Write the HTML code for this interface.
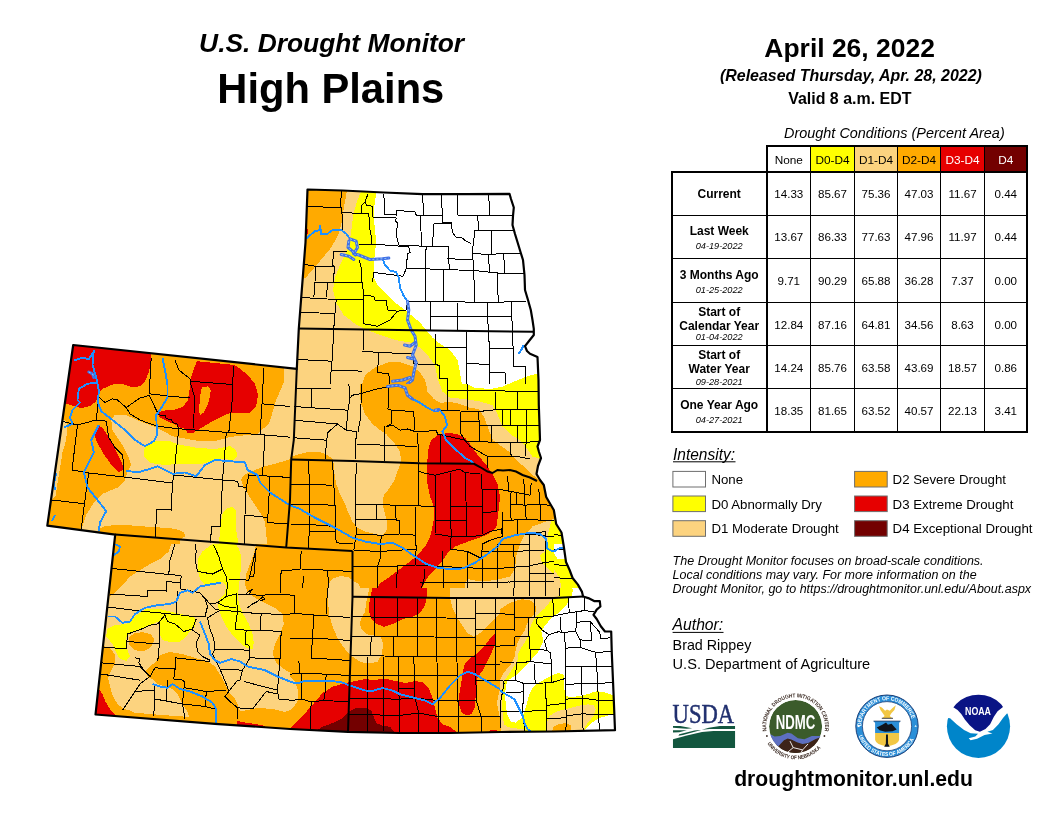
<!DOCTYPE html>
<html lang="en">
<head>
<meta charset="utf-8">
<title>U.S. Drought Monitor - High Plains</title>
<style>
html,body{margin:0;padding:0;background:#fff;}
body{width:1056px;height:816px;overflow:hidden;font-family:"Liberation Sans",sans-serif;}
svg{display:block;}
text{font-family:"Liberation Sans",sans-serif;fill:#000;}
.b{font-weight:bold;}
.i{font-style:italic;}
.c{text-anchor:middle;}
.num{font-size:11.6px;text-anchor:middle;}
.hd{font-size:11.8px;text-anchor:middle;}
.rl{font-size:12px;font-weight:bold;text-anchor:middle;}
.rd{font-size:9.2px;font-style:italic;text-anchor:middle;}
.lg{font-size:13.25px;}
.nt{font-size:12px;font-style:italic;}
</style>
</head>
<body>
<svg width="1056" height="816" viewBox="0 0 1056 816">
<rect width="1056" height="816" fill="#fff"/>
<text x="331.6" y="52.4" class="b i c" font-size="26.4" textLength="265" lengthAdjust="spacingAndGlyphs">U.S. Drought Monitor</text>
<text x="330.8" y="103.1" class="b c" font-size="41.7" textLength="227" lengthAdjust="spacingAndGlyphs">High Plains</text>
<text x="849.6" y="56.8" class="b c" font-size="26.2" textLength="170.5" lengthAdjust="spacingAndGlyphs">April 26, 2022</text>
<text x="850.9" y="81.2" class="b i c" font-size="15.9" textLength="261.8" lengthAdjust="spacingAndGlyphs">(Released Thursday, Apr. 28, 2022)</text>
<text x="849.8" y="104" class="b c" font-size="16" textLength="123.3" lengthAdjust="spacingAndGlyphs">Valid 8 a.m. EDT</text>
<text x="894.4" y="138" class="i c" font-size="14.4" textLength="220.6" lengthAdjust="spacingAndGlyphs">Drought Conditions (Percent Area)</text>
<rect x="767" y="146" width="43.5" height="26" fill="#ffffff"/>
<rect x="810.5" y="146" width="44.0" height="26" fill="#ffff00"/>
<rect x="854.5" y="146" width="43.0" height="26" fill="#fcd37f"/>
<rect x="897.5" y="146" width="43.0" height="26" fill="#ffaa00"/>
<rect x="940.5" y="146" width="44.0" height="26" fill="#e60000"/>
<rect x="984.5" y="146" width="42.5" height="26" fill="#730000"/>
<line x1="810.5" y1="146" x2="810.5" y2="432" stroke="#000" stroke-width="1"/>
<line x1="854.5" y1="146" x2="854.5" y2="432" stroke="#000" stroke-width="1"/>
<line x1="897.5" y1="146" x2="897.5" y2="432" stroke="#000" stroke-width="1"/>
<line x1="940.5" y1="146" x2="940.5" y2="432" stroke="#000" stroke-width="1"/>
<line x1="984.5" y1="146" x2="984.5" y2="432" stroke="#000" stroke-width="1"/>
<line x1="672" y1="215.5" x2="1027" y2="215.5" stroke="#000" stroke-width="1"/>
<line x1="672" y1="258.5" x2="1027" y2="258.5" stroke="#000" stroke-width="1"/>
<line x1="672" y1="302.5" x2="1027" y2="302.5" stroke="#000" stroke-width="1"/>
<line x1="672" y1="345.5" x2="1027" y2="345.5" stroke="#000" stroke-width="1"/>
<line x1="672" y1="388.5" x2="1027" y2="388.5" stroke="#000" stroke-width="1"/>
<path d="M767 432V146H1027V432H672V172H1027" fill="none" stroke="#000" stroke-width="2" stroke-linejoin="miter"/>
<text x="788.8" y="163.6" class="hd" fill="#000" style="fill:#000">None</text>
<text x="832.5" y="163.6" class="hd" fill="#000" style="fill:#000">D0-D4</text>
<text x="876.0" y="163.6" class="hd" fill="#000" style="fill:#000">D1-D4</text>
<text x="919.0" y="163.6" class="hd" fill="#000" style="fill:#000">D2-D4</text>
<text x="962.5" y="163.6" class="hd" fill="#fff" style="fill:#fff">D3-D4</text>
<text x="1005.8" y="163.6" class="hd" fill="#fff" style="fill:#fff">D4</text>
<text x="788.8" y="197.6" class="num">14.33</text>
<text x="832.5" y="197.6" class="num">85.67</text>
<text x="876.0" y="197.6" class="num">75.36</text>
<text x="919.0" y="197.6" class="num">47.03</text>
<text x="962.5" y="197.6" class="num">11.67</text>
<text x="1005.8" y="197.6" class="num">0.44</text>
<text x="788.8" y="241" class="num">13.67</text>
<text x="832.5" y="241" class="num">86.33</text>
<text x="876.0" y="241" class="num">77.63</text>
<text x="919.0" y="241" class="num">47.96</text>
<text x="962.5" y="241" class="num">11.97</text>
<text x="1005.8" y="241" class="num">0.44</text>
<text x="788.8" y="284.7" class="num">9.71</text>
<text x="832.5" y="284.7" class="num">90.29</text>
<text x="876.0" y="284.7" class="num">65.88</text>
<text x="919.0" y="284.7" class="num">36.28</text>
<text x="962.5" y="284.7" class="num">7.37</text>
<text x="1005.8" y="284.7" class="num">0.00</text>
<text x="788.8" y="328.6" class="num">12.84</text>
<text x="832.5" y="328.6" class="num">87.16</text>
<text x="876.0" y="328.6" class="num">64.81</text>
<text x="919.0" y="328.6" class="num">34.56</text>
<text x="962.5" y="328.6" class="num">8.63</text>
<text x="1005.8" y="328.6" class="num">0.00</text>
<text x="788.8" y="371.5" class="num">14.24</text>
<text x="832.5" y="371.5" class="num">85.76</text>
<text x="876.0" y="371.5" class="num">63.58</text>
<text x="919.0" y="371.5" class="num">43.69</text>
<text x="962.5" y="371.5" class="num">18.57</text>
<text x="1005.8" y="371.5" class="num">0.86</text>
<text x="788.8" y="414.6" class="num">18.35</text>
<text x="832.5" y="414.6" class="num">81.65</text>
<text x="876.0" y="414.6" class="num">63.52</text>
<text x="919.0" y="414.6" class="num">40.57</text>
<text x="962.5" y="414.6" class="num">22.13</text>
<text x="1005.8" y="414.6" class="num">3.41</text>
<text x="719.2" y="197.6" class="rl">Current</text>
<text x="719.2" y="234.6" class="rl">Last Week</text>
<text x="719.2" y="248.5" class="rd">04-19-2022</text>
<text x="719.2" y="278.5" class="rl">3 Months Ago</text>
<text x="719.2" y="292.6" class="rd">01-25-2022</text>
<text x="719.2" y="315.6" class="rl">Start of</text>
<text x="719.2" y="329.7" class="rl">Calendar Year</text>
<text x="719.2" y="339.5" class="rd">01-04-2022</text>
<text x="719.2" y="358.7" class="rl">Start of</text>
<text x="719.2" y="372.5" class="rl">Water Year</text>
<text x="719.2" y="384.6" class="rd">09-28-2021</text>
<text x="719.2" y="408.7" class="rl">One Year Ago</text>
<text x="719.2" y="422.8" class="rd">04-27-2021</text>
<text x="673" y="459.6" class="i" font-size="15.6" textLength="62" lengthAdjust="spacingAndGlyphs">Intensity:</text>
<line x1="673" y1="461.8" x2="735.5" y2="461.8" stroke="#000" stroke-width="1"/>
<rect x="672.9" y="471.4" width="32.6" height="15.6" fill="#ffffff" stroke="#6e6e6e" stroke-width="1"/>
<text x="711.4" y="484.0" class="lg">None</text>
<rect x="672.9" y="496.0" width="32.6" height="15.6" fill="#ffff00" stroke="#6e6e6e" stroke-width="1"/>
<text x="711.4" y="508.6" class="lg">D0 Abnormally Dry</text>
<rect x="672.9" y="520.7" width="32.6" height="15.6" fill="#fcd37f" stroke="#6e6e6e" stroke-width="1"/>
<text x="711.4" y="533.3" class="lg">D1 Moderate Drought</text>
<rect x="854.6" y="471.4" width="32.6" height="15.6" fill="#ffaa00" stroke="#6e6e6e" stroke-width="1"/>
<text x="892.6" y="484.0" class="lg">D2 Severe Drought</text>
<rect x="854.6" y="496.0" width="32.6" height="15.6" fill="#e60000" stroke="#6e6e6e" stroke-width="1"/>
<text x="892.6" y="508.6" class="lg">D3 Extreme Drought</text>
<rect x="854.6" y="520.7" width="32.6" height="15.6" fill="#730000" stroke="#6e6e6e" stroke-width="1"/>
<text x="892.6" y="533.3" class="lg">D4 Exceptional Drought</text>
<text x="672.6" y="564.6" class="nt" textLength="311" lengthAdjust="spacingAndGlyphs">The Drought Monitor focuses on broad-scale conditions.</text>
<text x="672.6" y="579" class="nt" textLength="304" lengthAdjust="spacingAndGlyphs">Local conditions may vary. For more information on the</text>
<text x="672.6" y="593.4" class="nt" textLength="358.5" lengthAdjust="spacingAndGlyphs">Drought Monitor, go to https://droughtmonitor.unl.edu/About.aspx</text>
<text x="672.6" y="630" class="i" font-size="15.7" textLength="50.6" lengthAdjust="spacingAndGlyphs">Author:</text>
<line x1="672.6" y1="632.4" x2="723.5" y2="632.4" stroke="#000" stroke-width="1"/>
<text x="672.6" y="650" font-size="14.3" textLength="78.7" lengthAdjust="spacingAndGlyphs">Brad Rippey</text>
<text x="672.6" y="669.4" font-size="14.3" textLength="197.6" lengthAdjust="spacingAndGlyphs">U.S. Department of Agriculture</text>
<text x="853.6" y="786.4" class="b c" font-size="21.2" textLength="238.8" lengthAdjust="spacingAndGlyphs">droughtmonitor.unl.edu</text>
<defs>
<clipPath id="mapclip"><polygon points="307.5,189.5 342.5,190.5 383.8,192.5 422.5,194.2 465.0,194.2 509.5,193.8 511.0,199.0 513.8,207.5 513.0,216.0 512.5,225.0 515.0,234.0 518.0,243.8 520.5,252.0 523.0,260.0 524.5,275.0 525.0,290.0 528.0,300.0 530.8,310.0 532.5,320.0 533.8,328.8 533.8,335.0 529.0,341.0 525.0,346.2 527.0,351.0 530.0,353.8 537.5,357.0 538.5,380.0 538.8,405.0 539.5,425.0 540.0,440.0 537.5,446.5 539.0,452.0 541.0,458.0 538.0,466.0 536.5,474.0 540.0,480.0 543.8,485.0 546.2,497.0 553.8,510.0 556.2,524.0 561.5,532.5 563.8,546.5 566.0,562.0 569.6,570.0 572.6,578.0 577.9,584.6 582.0,591.9 583.1,596.5 588.3,598.1 594.6,601.2 599.8,601.2 600.4,606.5 596.7,609.6 593.5,614.8 596.7,619.0 600.8,626.2 605.0,631.5 611.2,631.5 611.8,653.3 613.6,695.0 615.0,730.2 554.0,731.5 501.2,732.0 450.0,733.0 398.8,733.0 348.0,731.8 290.0,729.0 215.0,723.8 95.5,714.5 115.2,534.6 47.3,525.6 73.2,345.0 296.8,368.8 298.8,328.5 305.5,242.5"/></clipPath>
<clipPath id="cT11"><rect x="280" y="170" width="280" height="214"/></clipPath>
<clipPath id="cT21"><rect x="30" y="330" width="260" height="214"/></clipPath>
<clipPath id="cT31"><rect x="30" y="544" width="260" height="216"/></clipPath>
<clipPath id="cT22"><rect x="290" y="384" width="264" height="204"/></clipPath>
<clipPath id="cT23"><rect x="554" y="384" width="86" height="204"/></clipPath>
<clipPath id="cT32"><rect x="290" y="588" width="210" height="172"/></clipPath>
<clipPath id="cTE"><rect x="500" y="588" width="140" height="172"/></clipPath>
</defs>
<g clip-path="url(#mapclip)" shape-rendering="crispEdges">
<g clip-path="url(#cT11)">
<rect x="280" y="170" width="280" height="214" fill="#fcd37f"/>
<polygon points="307.5,187.5 347.0,190.0 345.5,198.8 343.5,210.0 342.0,221.2 338.8,233.8 331.2,247.5 325.0,255.0 318.8,262.5 311.2,271.2 305.5,278.0 297.5,280.0 297.5,187.5" fill="#ffaa00"/>
<polygon points="305.5,228.8 307.5,228.8 308.0,233.8 305.5,235.5" fill="#e60000"/>
<polygon points="361.2,387.5 365.0,375.0 375.0,367.5 387.5,362.5 400.0,362.0 412.5,366.2 420.0,372.5 425.0,380.0 427.5,387.5" fill="#ffaa00"/>
<polygon points="361.2,167.5 361.2,191.2 357.5,200.0 353.8,212.5 352.0,225.0 350.0,240.0 346.2,252.5 340.0,265.0 335.0,277.5 333.0,290.0 336.2,302.5 343.8,315.0 355.0,323.8 367.5,330.0 380.0,335.0 395.0,340.0 410.0,342.5 420.0,347.5 427.5,355.0 435.0,365.0 437.5,377.5 440.0,387.5 565.0,387.5 565.0,167.5" fill="#ffff00"/>
<polygon points="376.2,167.5 376.2,192.5 374.5,205.0 373.8,217.5 375.0,230.0 376.2,242.5 375.0,252.5 373.8,265.0 373.8,277.5 377.5,285.0 385.0,292.5 395.0,302.5 405.0,310.0 412.5,316.2 420.0,322.5 426.2,330.0 432.5,337.5 440.0,343.8 450.0,350.0 457.5,360.0 460.0,372.5 462.5,387.5 502.5,387.5 515.0,381.2 527.5,376.2 540.0,373.0 565.0,373.0 565.0,167.5" fill="#ffffff"/>
</g>
<g clip-path="url(#cT21)">
<rect x="30" y="330" width="260" height="214" fill="#fcd37f"/>
<polygon points="283.8,365.0 283.8,382.5 276.2,400.0 272.5,412.5 268.8,423.8 257.5,433.8 230.0,437.0 215.0,441.2 200.0,441.2 190.0,439.5 172.5,436.2 157.5,428.0 140.0,421.2 125.0,414.5 115.0,414.5 111.2,420.0 112.5,430.0 122.5,445.0 128.8,457.5 131.2,465.0 127.5,472.5 125.0,480.0 117.5,487.5 102.5,493.8 93.8,502.5 86.2,515.0 81.2,530.0 80.0,547.5 27.5,547.5 27.5,327.5 283.8,327.5" fill="#ffaa00"/>
<polygon points="27.5,419.5 65.0,419.5 67.5,425.0 66.2,440.0 62.5,452.5 58.8,475.0 55.5,496.2 50.0,501.2 27.5,501.2" fill="#fcd37f"/>
<polygon points="97.5,530.0 105.0,526.2 120.0,524.5 140.0,526.2 160.0,527.5 175.0,528.8 183.8,532.0 185.0,536.2 180.0,540.0 180.0,547.5 97.5,547.5" fill="#ffaa00"/>
<polygon points="73.2,342.5 151.2,351.2 151.2,360.0 148.8,372.5 145.0,381.2 140.0,386.2 132.5,387.5 122.5,383.8 112.5,384.5 102.5,388.8 98.8,393.8 96.2,401.2 90.0,406.2 81.2,408.0 72.5,405.5 66.2,403.8 62.5,400.0" fill="#e60000"/>
<polygon points="197.0,361.2 193.0,371.2 190.0,381.2 189.5,390.0 187.5,401.2 182.5,407.0 175.0,409.5 162.5,410.8 157.5,413.0 160.0,417.5 167.5,421.2 175.0,424.5 180.0,427.5 185.0,428.8 187.5,433.0 192.5,433.2 200.0,428.8 212.5,421.2 222.5,416.2 231.2,412.5 240.0,413.0 250.0,412.5 256.2,406.2 258.0,395.0 255.0,383.8 248.8,376.2 241.2,369.5 234.5,365.0" fill="#e60000"/>
<polygon points="202.5,387.5 208.0,386.2 210.8,390.0 210.0,396.2 207.5,405.5 203.8,412.5 200.0,415.0 199.0,410.0 200.0,397.5 201.2,390.0" fill="#ffaa00"/>
<polygon points="95.0,430.5 98.0,425.8 102.5,427.5 110.0,439.5 118.0,454.5 122.5,464.5 123.0,470.0 118.8,472.0 112.5,466.2 103.8,454.5 97.5,443.0 94.5,435.5" fill="#e60000"/>
<polygon points="143.8,450.0 147.5,443.8 157.5,440.5 170.0,441.2 177.5,444.2 195.0,447.5 215.0,449.2 230.0,446.2 236.2,450.0 237.5,456.2 232.5,460.5 225.0,459.0 215.0,460.0 202.5,463.8 180.0,463.8 165.0,465.0 150.0,463.0 144.5,457.5" fill="#ffff00"/>
<polygon points="332.0,456.2 326.2,454.4 318.8,451.9 310.0,453.1 300.0,455.6 287.5,460.0 275.0,463.8 262.5,466.9 252.5,471.2 243.8,475.0 241.2,480.0 243.1,486.2 246.9,492.5 252.5,501.2 260.0,512.5 265.0,522.5 266.2,532.5 267.5,550.0 332.0,550.0" fill="#ffaa00"/>
<polygon points="218.8,550.0 220.0,527.5 222.5,513.8 226.9,508.1 232.5,506.9 235.6,510.0 236.2,517.5 235.6,527.5 237.5,537.5 238.8,550.0" fill="#ffff00"/>
</g>
<g clip-path="url(#cT31)">
<rect x="30" y="544" width="260" height="216" fill="#fcd37f"/>
<polygon points="102.5,531.5 171.2,531.5 171.2,544.0 168.8,551.5 160.0,559.0 150.0,564.0 140.0,570.2 130.0,576.5 122.5,585.2 115.0,592.8 107.5,597.8 90.0,597.8 90.0,531.5" fill="#ffaa00"/>
<polygon points="128.8,637.8 133.8,633.5 142.5,632.0 151.2,634.5 154.5,640.2 151.2,647.0 143.8,651.5 135.0,650.2 128.8,644.0" fill="#ffaa00"/>
<polygon points="156.2,661.5 160.0,655.2 170.0,652.0 182.5,654.0 195.0,657.8 207.5,661.5 215.0,666.5 221.2,676.5 226.2,686.5 230.0,694.0 234.5,697.8 237.5,704.0 240.0,711.0 247.5,710.2 257.5,707.8 272.5,709.0 285.0,712.0 295.0,707.8 304.0,700.2 315.0,694.0 315.0,744.0 190.0,744.0 190.0,719.0 187.5,711.5 182.5,704.0 177.5,694.0 172.5,689.0 165.0,686.5 157.5,684.0 153.8,680.2 147.5,676.5 145.0,671.5 150.0,666.5" fill="#ffaa00"/>
<polygon points="256.2,531.5 256.2,544.0 253.8,554.0 250.0,564.0 246.2,574.0 245.0,584.0 247.5,591.5 255.0,597.8 265.0,602.8 275.0,607.8 282.5,614.0 283.8,624.0 280.0,634.0 275.0,644.0 272.5,654.0 276.2,662.8 283.8,669.0 292.5,674.0 304.0,676.5 315.0,676.5 315.0,531.5" fill="#ffaa00"/>
<polygon points="102.5,645.2 111.2,649.0 115.0,655.2 115.0,662.8 111.2,670.2 108.0,677.8 110.0,686.5 113.0,696.5 117.5,704.0 123.8,709.0 132.5,711.0 122.5,719.0 90.0,719.0 90.0,645.2" fill="#ffaa00"/>
<polygon points="120.0,711.0 140.0,713.2 165.0,715.2 190.0,717.0 190.0,726.5 120.0,721.5" fill="#ffaa00"/>
<polygon points="99.5,690.2 102.5,694.0 105.5,701.5 110.0,709.0 116.2,716.0 117.5,719.0 90.0,719.0 90.0,690.2" fill="#e60000"/>
<polygon points="237.0,721.0 245.0,722.5 255.0,724.0 265.0,726.0 266.2,730.2 237.0,727.8" fill="#e60000"/>
<polygon points="292.5,734.0 295.0,726.5 304.0,722.0 315.0,719.0 315.0,734.0" fill="#e60000"/>
<polygon points="212.5,531.5 212.5,544.0 202.5,551.5 198.0,559.0 197.5,569.0 200.0,579.0 205.0,585.2 215.0,584.0 221.2,581.5 226.2,585.2 225.0,594.0 218.8,600.2 218.0,606.5 221.2,616.5 226.2,626.5 232.5,635.2 240.0,642.8 246.2,647.8 252.5,649.0 253.8,642.8 252.5,634.0 248.8,624.0 243.8,615.2 240.0,606.5 237.5,597.8 238.8,587.8 240.0,576.5 241.2,566.5 241.2,556.5 238.8,549.0 236.2,544.0 236.2,531.5" fill="#ffff00"/>
<polygon points="107.0,629.0 115.0,625.2 126.2,624.0 135.0,616.5 145.0,609.5 157.5,608.5 170.0,611.5 180.0,614.0 192.5,616.5 196.2,619.0 195.0,626.5 190.0,631.5 185.0,637.8 180.0,641.5 170.0,642.0 162.5,640.2 159.5,634.0 159.5,624.0 157.5,622.0 150.0,625.2 140.0,629.0 130.0,632.8 126.2,637.8 127.0,649.0 130.0,656.5 126.2,661.0 120.0,659.0 116.2,652.8 112.5,644.0 106.2,636.5" fill="#ffff00"/>
</g>
<g clip-path="url(#cT22)">
<rect x="290" y="384" width="264" height="204" fill="#ffaa00"/>
<polygon points="360.0,371.5 360.0,384.0 359.5,394.0 361.2,404.0 365.0,414.0 372.5,424.0 380.0,430.2 386.2,434.0 390.0,439.0 395.0,444.0 400.0,451.5 401.2,461.5 397.5,471.5 393.8,481.5 388.8,489.0 383.8,495.2 382.5,504.0 385.0,514.0 387.5,524.0 386.2,531.5 382.5,535.2 375.0,534.0 365.0,531.5 357.5,527.8 352.5,521.5 348.8,514.0 345.0,504.0 340.0,494.0 336.2,484.0 334.5,474.0 333.8,464.0 332.5,459.0 327.5,455.2 320.0,452.0 310.0,451.5 300.0,454.0 290.0,457.0 277.5,457.0 277.5,371.5" fill="#fcd37f"/>
<polygon points="565.0,517.8 554.0,519.0 542.5,522.8 532.5,526.5 525.0,534.0 520.0,544.0 516.2,556.5 515.0,569.0 510.0,576.5 495.0,580.2 480.0,581.5 467.5,579.0 465.0,584.0 465.0,591.5 565.0,591.5" fill="#fcd37f"/>
<polygon points="327.5,591.5 328.8,584.0 332.5,578.5 340.0,576.0 348.8,577.0 353.8,581.5 358.8,584.0 361.2,591.5" fill="#fcd37f"/>
<polygon points="426.2,371.5 426.2,384.0 427.5,391.5 433.8,399.0 440.0,402.8 450.0,402.0 460.0,404.0 470.0,407.8 478.8,409.0 484.5,417.8 488.8,430.2 493.0,440.2 501.2,446.0 508.8,451.5 515.0,459.0 523.8,466.5 531.2,473.5 538.8,480.2 565.0,480.2 565.0,371.5" fill="#fcd37f"/>
<polygon points="440.0,371.5 440.0,384.0 442.5,391.5 450.0,397.8 465.0,399.0 480.0,401.5 492.5,405.2 497.5,414.0 502.5,426.5 510.0,434.0 520.0,440.2 527.5,449.0 532.5,456.5 540.0,459.0 565.0,459.0 565.0,371.5" fill="#ffff00"/>
<polygon points="465.0,371.5 466.2,384.0 475.0,387.8 490.0,389.0 502.5,386.5 507.5,384.0 507.5,371.5" fill="#ffffff"/>
<polygon points="551.2,521.5 549.2,528.8 547.5,536.2 548.5,543.8 545.5,551.2 540.0,555.0 541.8,562.5 547.5,568.0 554.0,574.0 565.0,574.0 565.0,519.0 555.0,519.0" fill="#ffff00"/>
<polygon points="428.8,446.5 431.2,440.2 437.5,435.2 447.5,432.8 457.5,434.0 465.0,437.8 470.0,444.0 475.0,451.5 481.2,459.0 487.5,466.5 492.5,474.0 497.5,484.0 500.0,496.5 498.8,509.0 497.5,519.0 496.2,527.8 490.0,532.8 482.5,536.5 475.0,539.0 465.0,542.8 455.0,546.5 448.8,551.5 443.8,559.0 437.5,566.5 430.0,574.0 425.0,581.5 420.0,591.5 377.5,591.5 378.8,584.0 390.0,576.5 400.0,569.0 410.0,561.5 417.5,555.2 425.0,546.5 430.0,536.5 432.5,526.5 434.5,516.5 433.8,506.5 430.0,496.5 427.5,484.0 427.0,471.5 427.5,459.0" fill="#e60000"/>
</g>
<g clip-path="url(#cT23)">
<rect x="554" y="384" width="86" height="204" fill="#ffff00"/>
<polygon points="553.0,544.0 562.5,544.0 565.5,559.0 557.5,559.0 553.0,551.5" fill="#ffffff"/>
<polygon points="554.0,569.5 558.8,576.5 562.5,591.5 550.0,591.5 550.0,569.5" fill="#fcd37f"/>
</g>
<g clip-path="url(#cT32)">
<rect x="290" y="588" width="210" height="172" fill="#ffaa00"/>
<polygon points="327.5,575.5 327.5,588.0 328.0,603.0 329.5,615.5 333.0,628.0 338.8,640.5 346.2,650.5 352.5,656.8 361.2,662.2 370.0,663.5 377.5,661.8 382.0,654.2 383.0,643.0 380.5,636.8 373.8,635.5 366.2,634.2 361.2,629.2 360.0,623.0 362.0,616.8 365.0,611.8 365.8,605.5 367.0,597.5 369.5,588.0 369.5,575.5" fill="#fcd37f"/>
<polygon points="450.0,575.5 450.0,598.0 452.5,608.0 457.5,618.0 462.5,625.5 467.5,633.0 473.8,636.8 480.0,633.0 487.5,625.5 495.0,618.0 502.5,611.8 510.0,605.5 517.5,601.0 527.5,599.2 536.2,599.2 537.5,606.8 533.8,614.2 527.5,620.5 522.5,628.0 518.8,638.0 516.2,648.0 515.0,658.0 510.0,665.5 505.0,673.0 502.5,683.0 498.8,693.0 497.0,703.0 498.8,713.0 501.2,723.0 502.5,738.0 565.0,738.0 565.0,575.5" fill="#fcd37f"/>
<polygon points="280.0,670.5 287.5,674.2 295.0,681.8 298.2,691.2 297.8,700.5 293.0,708.0 285.5,712.8 280.0,714.8" fill="#fcd37f"/>
<polygon points="565.0,605.5 554.0,606.8 545.0,611.8 540.0,615.5 533.8,623.0 527.5,630.5 522.5,640.5 520.0,650.5 518.8,660.5 515.0,668.0 510.0,674.2 506.2,684.2 503.8,693.0 502.0,703.0 502.5,713.0 505.0,723.0 506.2,738.0 565.0,738.0" fill="#ffff00"/>
<polygon points="372.5,575.5 372.5,588.0 370.0,598.0 368.8,608.0 370.0,616.8 375.0,623.0 383.8,626.8 392.5,624.2 402.5,619.2 412.5,616.8 420.0,613.0 425.0,605.5 427.0,595.5 427.0,575.5" fill="#e60000"/>
<polygon points="495.5,633.0 496.2,640.5 492.5,650.5 487.5,660.5 482.5,670.5 477.5,678.0 476.2,688.0 475.5,698.0 474.5,708.0 471.2,714.2 466.2,715.5 461.2,711.8 458.8,703.0 459.5,693.0 461.2,683.0 462.5,673.0 465.0,663.0 470.0,658.0 477.5,653.0 485.0,645.5 491.2,636.8" fill="#e60000"/>
<polygon points="277.5,738.0 290.0,728.0 297.5,720.5 307.5,710.5 315.0,701.8 322.5,693.0 332.5,686.8 345.0,683.0 355.0,681.0 365.0,679.2 375.0,680.0 385.0,678.5 395.0,681.0 405.0,683.0 415.0,681.0 422.5,682.5 428.8,688.0 432.5,698.0 435.0,708.0 437.5,718.0 442.5,724.2 450.0,726.8 456.2,731.8 456.2,738.0" fill="#e60000"/>
<polygon points="486.2,734.2 490.0,730.0 496.2,729.5 500.0,734.2" fill="#e60000"/>
<polygon points="313.8,731.8 322.5,726.8 332.5,723.0 342.5,718.0 348.8,711.8 356.2,708.0 365.0,707.5 371.2,710.5 373.8,716.8 376.2,723.0 382.5,725.5 390.0,726.8 393.8,731.8 393.8,738.0 313.8,738.0" fill="#730000"/>
</g>
<g clip-path="url(#cTE)">
<rect x="500" y="588" width="140" height="172" fill="#ffffff"/>
<polygon points="571.7,559.6 571.7,582.5 572.7,590.8 571.7,596.0 569.6,597.1 567.5,603.3 563.3,608.5 559.2,612.7 552.9,616.9 548.8,621.0 544.6,626.2 541.5,631.5 542.5,636.7 543.5,640.8 540.4,647.1 537.3,653.3 533.1,657.5 529.0,662.7 524.8,666.9 519.6,672.1 514.4,676.2 509.2,679.4 506.7,682.5 505.4,690.8 505.4,699.2 506.0,707.5 507.7,715.8 511.2,721.7 515.4,722.7 520.6,719.0 523.8,713.8 526.9,703.3 529.0,695.0 532.1,688.8 537.3,683.5 544.6,679.4 551.9,675.2 558.1,673.1 563.3,674.2 564.4,680.4 564.4,688.8 565.4,696.0 571.7,697.1 580.0,696.0 588.3,694.0 593.5,691.9 597.7,691.2 605.0,692.5 612.3,695.0 625.8,695.0 625.8,713.8 614.4,713.8 607.1,715.8 599.8,717.9 595.6,720.0 590.4,724.2 586.2,728.3 584.2,730.8 584.2,742.9 469.6,742.9 469.6,559.6" fill="#ffff00"/>
<polygon points="559.2,559.6 559.2,570.0 560.2,582.5 560.2,596.0 552.9,598.1 548.8,603.3 544.6,608.5 540.4,611.7 536.2,616.9 532.1,622.1 530.0,628.3 529.0,634.6 525.8,640.8 521.7,647.1 518.5,653.3 517.5,659.6 514.4,665.8 510.2,672.1 506.0,678.3 503.3,683.5 502.1,690.8 501.7,699.2 502.1,707.5 502.9,715.8 504.0,724.2 508.1,727.3 515.4,728.3 523.8,729.4 524.8,742.9 469.6,742.9 469.6,559.6" fill="#fcd37f"/>
<polygon points="546.2,734.6 546.7,724.2 548.8,716.9 552.9,713.3 559.2,710.6 565.8,709.2 571.7,707.5 580.0,705.4 588.3,704.4 593.5,705.4 595.6,709.6 593.5,715.8 589.4,721.0 585.2,726.2 583.1,734.6" fill="#fcd37f"/>
<polygon points="551.9,734.6 552.9,727.3 558.1,724.2 565.4,723.1 570.6,725.2 571.7,734.6" fill="#ffaa00"/>
<polygon points="469.6,619.0 480.0,619.0 486.2,616.9 492.5,614.8 496.7,611.7 502.9,607.5 509.2,603.3 514.4,601.2 521.7,599.2 530.0,600.2 535.2,604.4 536.2,610.6 533.1,615.8 529.0,619.0 526.9,624.2 524.8,630.4 520.6,636.7 517.5,642.9 515.4,651.2 514.4,657.5 511.2,663.8 506.0,670.0 502.9,674.2 500.8,678.3 496.7,686.7 494.6,695.0 492.5,703.3 494.6,711.7 498.8,715.8 500.8,724.2 500.8,742.9 469.6,742.9" fill="#ffaa00"/>
</g>
</g>
<g clip-path="url(#mapclip)">
<g clip-path="url(#cT11)">
<polyline points="307.5,206.2 341.2,208.0" fill="none" stroke="#000" stroke-width="1" shape-rendering="crispEdges"/>
<polyline points="341.2,191.2 340.8,205.0 341.8,212.5 343.0,221.2 342.5,230.0" fill="none" stroke="#000" stroke-width="1" shape-rendering="crispEdges"/>
<polyline points="341.8,212.5 368.8,213.8" fill="none" stroke="#000" stroke-width="1" shape-rendering="crispEdges"/>
<polyline points="361.2,213.8 361.8,205.0 365.0,202.0 368.0,193.8" fill="none" stroke="#000" stroke-width="1" shape-rendering="crispEdges"/>
<polyline points="365.0,202.0 367.0,205.5 373.0,206.2 372.5,217.0 384.5,217.5 396.2,218.0" fill="none" stroke="#000" stroke-width="1" shape-rendering="crispEdges"/>
<polyline points="383.8,193.8 384.5,206.2 385.0,214.5 396.2,215.0 396.2,210.5 415.0,211.8 416.2,215.0 422.0,215.5" fill="none" stroke="#000" stroke-width="1" shape-rendering="crispEdges"/>
<polyline points="368.8,213.8 370.0,230.0 371.8,238.8 371.2,244.2" fill="none" stroke="#000" stroke-width="1" shape-rendering="crispEdges"/>
<polyline points="358.8,244.2 385.0,245.0 408.8,246.8 410.0,252.5 407.5,253.8 406.2,268.8 403.0,276.2 373.8,272.5 372.5,282.0" fill="none" stroke="#000" stroke-width="1" shape-rendering="crispEdges"/>
<polyline points="396.2,218.0 395.5,221.2 397.5,223.0 396.2,235.0 398.8,245.0" fill="none" stroke="#000" stroke-width="1" shape-rendering="crispEdges"/>
<polyline points="333.8,251.2 347.5,251.5" fill="none" stroke="#000" stroke-width="1" shape-rendering="crispEdges"/>
<polyline points="333.8,251.2 332.5,265.0 334.2,266.2 333.8,282.0" fill="none" stroke="#000" stroke-width="1" shape-rendering="crispEdges"/>
<polyline points="302.5,264.2 315.5,266.2 333.8,266.2" fill="none" stroke="#000" stroke-width="1" shape-rendering="crispEdges"/>
<polyline points="315.5,266.2 315.0,282.0 313.8,297.5" fill="none" stroke="#000" stroke-width="1" shape-rendering="crispEdges"/>
<polyline points="359.2,260.0 361.2,267.5 361.8,282.0" fill="none" stroke="#000" stroke-width="1" shape-rendering="crispEdges"/>
<polyline points="315.0,282.0 333.8,282.0 362.5,282.5" fill="none" stroke="#000" stroke-width="1" shape-rendering="crispEdges"/>
<polyline points="327.5,282.0 326.5,297.5" fill="none" stroke="#000" stroke-width="1" shape-rendering="crispEdges"/>
<polyline points="301.2,297.5 336.2,299.5 362.5,300.0" fill="none" stroke="#000" stroke-width="1" shape-rendering="crispEdges"/>
<polyline points="300.5,312.0 334.5,313.8" fill="none" stroke="#000" stroke-width="1" shape-rendering="crispEdges"/>
<polyline points="336.2,299.5 335.0,313.8 333.8,328.0" fill="none" stroke="#000" stroke-width="1" shape-rendering="crispEdges"/>
<polyline points="362.5,282.5 363.8,300.0 363.8,323.8" fill="none" stroke="#000" stroke-width="1" shape-rendering="crispEdges"/>
<polyline points="363.8,295.5 373.8,296.2 374.5,300.0 386.2,300.5 387.5,310.0 397.5,311.2 406.2,310.0 407.5,302.5" fill="none" stroke="#000" stroke-width="1" shape-rendering="crispEdges"/>
<polyline points="397.5,311.2 390.0,320.0 377.5,326.2 363.8,323.8" fill="none" stroke="#000" stroke-width="1" shape-rendering="crispEdges"/>
<polyline points="422.5,194.5 423.8,215.5 420.0,216.2 422.0,246.2" fill="none" stroke="#000" stroke-width="1" shape-rendering="crispEdges"/>
<polyline points="441.2,194.5 442.5,215.5" fill="none" stroke="#000" stroke-width="1" shape-rendering="crispEdges"/>
<polyline points="423.8,215.5 442.5,215.5 443.0,222.5" fill="none" stroke="#000" stroke-width="1" shape-rendering="crispEdges"/>
<polyline points="457.0,194.5 458.0,215.0 477.5,215.5 478.8,230.0 475.0,230.0 472.0,253.8" fill="none" stroke="#000" stroke-width="1" shape-rendering="crispEdges"/>
<polyline points="488.8,194.5 489.5,215.0" fill="none" stroke="#000" stroke-width="1" shape-rendering="crispEdges"/>
<polyline points="477.5,215.5 513.0,215.0" fill="none" stroke="#000" stroke-width="1" shape-rendering="crispEdges"/>
<polyline points="433.8,223.8 432.5,246.2" fill="none" stroke="#000" stroke-width="1" shape-rendering="crispEdges"/>
<polyline points="433.8,223.8 451.2,223.0 452.5,232.5 456.2,237.5 461.2,237.0 465.0,240.5 471.2,243.8" fill="none" stroke="#000" stroke-width="1" shape-rendering="crispEdges"/>
<polyline points="443.0,222.5 451.2,223.0" fill="none" stroke="#000" stroke-width="1" shape-rendering="crispEdges"/>
<polyline points="475.0,230.0 491.2,230.8 492.0,253.8" fill="none" stroke="#000" stroke-width="1" shape-rendering="crispEdges"/>
<polyline points="491.2,230.8 513.2,230.0" fill="none" stroke="#000" stroke-width="1" shape-rendering="crispEdges"/>
<polyline points="398.8,245.5 426.2,246.2 448.8,247.0" fill="none" stroke="#000" stroke-width="1" shape-rendering="crispEdges"/>
<polyline points="448.8,247.0 448.0,258.8 450.0,268.8" fill="none" stroke="#000" stroke-width="1" shape-rendering="crispEdges"/>
<polyline points="448.0,258.8 472.5,259.5" fill="none" stroke="#000" stroke-width="1" shape-rendering="crispEdges"/>
<polyline points="472.0,253.8 488.8,254.2 503.8,253.8 521.2,253.2" fill="none" stroke="#000" stroke-width="1" shape-rendering="crispEdges"/>
<polyline points="426.2,246.2 425.0,268.8 406.2,268.8" fill="none" stroke="#000" stroke-width="1" shape-rendering="crispEdges"/>
<polyline points="425.0,268.8 443.0,269.5 473.8,270.5 497.5,273.0 523.8,273.0" fill="none" stroke="#000" stroke-width="1" shape-rendering="crispEdges"/>
<polyline points="472.5,253.8 473.8,270.5" fill="none" stroke="#000" stroke-width="1" shape-rendering="crispEdges"/>
<polyline points="488.8,254.2 489.2,272.0" fill="none" stroke="#000" stroke-width="1" shape-rendering="crispEdges"/>
<polyline points="503.8,253.8 504.5,273.0" fill="none" stroke="#000" stroke-width="1" shape-rendering="crispEdges"/>
<polyline points="425.0,268.8 425.0,301.2" fill="none" stroke="#000" stroke-width="1" shape-rendering="crispEdges"/>
<polyline points="443.0,269.5 443.8,301.2" fill="none" stroke="#000" stroke-width="1" shape-rendering="crispEdges"/>
<polyline points="473.8,270.5 474.5,301.8" fill="none" stroke="#000" stroke-width="1" shape-rendering="crispEdges"/>
<polyline points="497.5,273.0 498.2,302.0" fill="none" stroke="#000" stroke-width="1" shape-rendering="crispEdges"/>
<polyline points="407.5,301.2 430.0,301.8 456.2,301.8 487.5,302.5 511.2,301.8 525.5,301.2" fill="none" stroke="#000" stroke-width="1" shape-rendering="crispEdges"/>
<polyline points="430.0,301.8 430.8,331.2" fill="none" stroke="#000" stroke-width="1" shape-rendering="crispEdges"/>
<polyline points="457.0,301.8 457.5,331.2" fill="none" stroke="#000" stroke-width="1" shape-rendering="crispEdges"/>
<polyline points="487.5,302.5 488.2,331.8" fill="none" stroke="#000" stroke-width="1" shape-rendering="crispEdges"/>
<polyline points="511.2,301.8 512.5,331.8" fill="none" stroke="#000" stroke-width="1" shape-rendering="crispEdges"/>
<polyline points="430.8,316.2 457.0,316.8 487.5,316.8 512.0,317.0" fill="none" stroke="#000" stroke-width="1" shape-rendering="crispEdges"/>
<polyline points="333.8,328.0 332.5,355.0 331.2,370.0 330.0,384.0" fill="none" stroke="#000" stroke-width="1" shape-rendering="crispEdges"/>
<polyline points="298.0,359.5 331.8,361.2" fill="none" stroke="#000" stroke-width="1" shape-rendering="crispEdges"/>
<polyline points="331.2,370.0 362.5,371.2" fill="none" stroke="#000" stroke-width="1" shape-rendering="crispEdges"/>
<polyline points="363.8,330.0 363.0,351.2 378.8,352.5 377.5,372.5 388.8,373.8 390.0,384.0" fill="none" stroke="#000" stroke-width="1" shape-rendering="crispEdges"/>
<polyline points="378.8,352.5 412.5,353.8 413.8,363.8 437.5,365.0 440.0,365.5 439.5,378.8 447.5,378.8 447.5,384.0" fill="none" stroke="#000" stroke-width="1" shape-rendering="crispEdges"/>
<polyline points="435.0,332.5 435.5,365.0" fill="none" stroke="#000" stroke-width="1" shape-rendering="crispEdges"/>
<polyline points="435.0,347.5 466.2,348.0" fill="none" stroke="#000" stroke-width="1" shape-rendering="crispEdges"/>
<polyline points="466.2,332.5 467.0,384.0" fill="none" stroke="#000" stroke-width="1" shape-rendering="crispEdges"/>
<polyline points="488.8,332.5 490.0,384.0" fill="none" stroke="#000" stroke-width="1" shape-rendering="crispEdges"/>
<polyline points="490.0,348.0 513.0,348.0" fill="none" stroke="#000" stroke-width="1" shape-rendering="crispEdges"/>
<polyline points="467.0,363.8 490.0,364.2" fill="none" stroke="#000" stroke-width="1" shape-rendering="crispEdges"/>
<polyline points="512.5,332.5 513.8,366.2 525.0,366.2 525.0,384.0" fill="none" stroke="#000" stroke-width="1" shape-rendering="crispEdges"/>
<polyline points="490.0,372.5 505.0,373.0 505.5,384.0" fill="none" stroke="#000" stroke-width="1" shape-rendering="crispEdges"/>
</g>
<g clip-path="url(#cT21)">
<polyline points="151.2,358.0 149.2,393.8 170.0,396.2 190.0,398.0" fill="none" stroke="#000" stroke-width="1" shape-rendering="crispEdges"/>
<polyline points="98.8,397.0 105.0,402.5 112.5,398.8 117.5,400.0 126.2,407.5 140.0,398.0 149.2,395.5" fill="none" stroke="#000" stroke-width="1" shape-rendering="crispEdges"/>
<polyline points="98.8,397.0 96.2,420.0 77.5,425.0 62.0,421.2" fill="none" stroke="#000" stroke-width="1" shape-rendering="crispEdges"/>
<polyline points="96.2,420.0 106.2,421.2 108.8,437.5 115.0,447.5 122.5,455.0 123.8,465.0 123.8,477.0" fill="none" stroke="#000" stroke-width="1" shape-rendering="crispEdges"/>
<polyline points="77.5,425.0 72.0,470.0 88.8,473.0 123.8,477.0 172.5,483.0" fill="none" stroke="#000" stroke-width="1" shape-rendering="crispEdges"/>
<polyline points="88.8,473.0 86.2,490.0 84.5,503.8 81.2,528.8" fill="none" stroke="#000" stroke-width="1" shape-rendering="crispEdges"/>
<polyline points="52.0,500.0 85.0,503.8" fill="none" stroke="#000" stroke-width="1" shape-rendering="crispEdges"/>
<polyline points="126.2,407.5 130.0,413.8 140.0,420.0 150.0,423.8 157.5,426.2 178.8,428.8" fill="none" stroke="#000" stroke-width="1" shape-rendering="crispEdges"/>
<polyline points="149.2,395.5 157.5,412.5 159.5,415.0 165.0,415.5 166.2,418.8 171.2,419.5 172.5,422.5 177.0,423.8 178.8,428.8" fill="none" stroke="#000" stroke-width="1" shape-rendering="crispEdges"/>
<polyline points="175.0,360.0 178.8,370.0 190.0,378.8 190.0,381.2 232.5,384.5 233.8,366.2" fill="none" stroke="#000" stroke-width="1" shape-rendering="crispEdges"/>
<polyline points="190.0,381.2 195.0,398.8 193.0,428.8" fill="none" stroke="#000" stroke-width="1" shape-rendering="crispEdges"/>
<polyline points="232.5,384.5 232.0,402.5 228.8,432.5" fill="none" stroke="#000" stroke-width="1" shape-rendering="crispEdges"/>
<polyline points="178.8,428.8 228.8,432.5 265.0,435.0 293.8,437.5" fill="none" stroke="#000" stroke-width="1" shape-rendering="crispEdges"/>
<polyline points="263.8,368.0 262.0,403.8 260.0,435.0" fill="none" stroke="#000" stroke-width="1" shape-rendering="crispEdges"/>
<polyline points="262.0,403.8 295.0,407.0" fill="none" stroke="#000" stroke-width="1" shape-rendering="crispEdges"/>
<polyline points="178.8,428.8 176.2,452.5 173.8,475.0 172.5,483.0 171.2,510.0 157.0,509.5 155.0,538.8" fill="none" stroke="#000" stroke-width="1" shape-rendering="crispEdges"/>
<polyline points="226.2,433.0 224.5,457.5 222.5,480.0 220.5,526.2 212.0,526.2 210.0,543.0" fill="none" stroke="#000" stroke-width="1" shape-rendering="crispEdges"/>
<polyline points="173.8,475.0 222.5,480.0 237.5,481.2 238.8,486.2 246.2,487.5 248.8,475.0 270.0,476.2 290.0,477.5" fill="none" stroke="#000" stroke-width="1" shape-rendering="crispEdges"/>
<polyline points="265.0,435.0 262.5,475.0" fill="none" stroke="#000" stroke-width="1" shape-rendering="crispEdges"/>
<polyline points="246.2,487.5 245.0,515.0 244.5,544.0" fill="none" stroke="#000" stroke-width="1" shape-rendering="crispEdges"/>
<polyline points="270.0,476.2 268.8,500.0 267.5,522.5 287.5,524.0" fill="none" stroke="#000" stroke-width="1" shape-rendering="crispEdges"/>
<polyline points="245.0,515.0 267.5,517.5" fill="none" stroke="#000" stroke-width="1" shape-rendering="crispEdges"/>
</g>
<g clip-path="url(#cT31)">
<polyline points="175.0,544.0 170.0,560.2 168.8,574.0 181.2,576.0 180.0,589.0" fill="none" stroke="#000" stroke-width="1" shape-rendering="crispEdges"/>
<polyline points="112.5,568.5 168.8,574.5" fill="none" stroke="#000" stroke-width="1" shape-rendering="crispEdges"/>
<polyline points="109.5,594.0 147.5,596.5 148.0,590.2 166.2,591.0 167.0,581.5 180.0,582.8" fill="none" stroke="#000" stroke-width="1" shape-rendering="crispEdges"/>
<polyline points="108.0,607.0 140.0,611.0 176.2,614.5 197.5,617.0" fill="none" stroke="#000" stroke-width="1" shape-rendering="crispEdges"/>
<polyline points="126.2,649.0 127.5,634.0 138.8,630.2 150.0,625.2 157.5,624.0 163.8,616.5 165.0,614.0" fill="none" stroke="#000" stroke-width="1" shape-rendering="crispEdges"/>
<polyline points="160.0,621.5 158.8,654.0 157.5,661.5" fill="none" stroke="#000" stroke-width="1" shape-rendering="crispEdges"/>
<polyline points="103.8,647.0 126.2,649.0" fill="none" stroke="#000" stroke-width="1" shape-rendering="crispEdges"/>
<polyline points="127.5,641.5 158.8,644.0" fill="none" stroke="#000" stroke-width="1" shape-rendering="crispEdges"/>
<polyline points="101.2,662.8 140.0,666.5 150.0,676.5 155.0,667.8 175.0,669.0 175.0,657.8 210.0,661.5" fill="none" stroke="#000" stroke-width="1" shape-rendering="crispEdges"/>
<polyline points="195.0,544.0 196.2,551.5 195.0,559.0 197.5,571.5 212.5,574.0 222.5,569.0 218.8,556.5 213.8,545.2" fill="none" stroke="#000" stroke-width="1" shape-rendering="crispEdges"/>
<polyline points="222.5,569.0 226.2,576.5 227.5,585.2 226.2,596.5 217.5,602.8 210.0,604.0 200.0,592.8 181.2,589.0" fill="none" stroke="#000" stroke-width="1" shape-rendering="crispEdges"/>
<polyline points="176.2,614.0 177.5,591.5" fill="none" stroke="#000" stroke-width="1" shape-rendering="crispEdges"/>
<polyline points="200.0,592.8 205.0,599.0 207.5,606.5 205.0,616.5 197.5,617.0" fill="none" stroke="#000" stroke-width="1" shape-rendering="crispEdges"/>
<polyline points="210.0,604.0 215.0,609.0 220.0,610.2 207.5,617.8" fill="none" stroke="#000" stroke-width="1" shape-rendering="crispEdges"/>
<polyline points="165.0,615.2 167.5,621.5 175.0,624.0 183.8,631.5 192.5,629.0 196.2,619.0" fill="none" stroke="#000" stroke-width="1" shape-rendering="crispEdges"/>
<polyline points="192.5,630.2 200.0,635.2 196.2,642.8 197.5,651.5 202.5,656.5 210.0,660.2" fill="none" stroke="#000" stroke-width="1" shape-rendering="crispEdges"/>
<polyline points="207.5,617.8 210.0,629.0 213.8,639.0 215.0,649.0 212.5,654.0" fill="none" stroke="#000" stroke-width="1" shape-rendering="crispEdges"/>
<polyline points="226.2,596.5 236.2,594.0 237.5,611.5 235.0,629.0 246.2,630.2 245.0,644.0 248.8,645.2 249.5,649.0" fill="none" stroke="#000" stroke-width="1" shape-rendering="crispEdges"/>
<polyline points="220.0,610.2 237.5,611.5" fill="none" stroke="#000" stroke-width="1" shape-rendering="crispEdges"/>
<polyline points="237.5,594.0 260.0,595.2 295.0,594.0 304.0,594.0" fill="none" stroke="#000" stroke-width="1" shape-rendering="crispEdges"/>
<polyline points="228.8,579.0 248.8,580.2 250.0,575.2 256.2,547.8" fill="none" stroke="#000" stroke-width="1" shape-rendering="crispEdges"/>
<polyline points="256.2,547.8 253.8,576.5 250.0,576.5" fill="none" stroke="#000" stroke-width="1" shape-rendering="crispEdges"/>
<polyline points="217.5,602.8 225.0,606.5 236.2,607.8" fill="none" stroke="#000" stroke-width="1" shape-rendering="crispEdges"/>
<polyline points="237.5,611.5 247.5,612.8 261.2,613.5 260.0,630.2 246.2,630.2" fill="none" stroke="#000" stroke-width="1" shape-rendering="crispEdges"/>
<polyline points="261.2,613.5 295.0,615.2 296.2,594.0" fill="none" stroke="#000" stroke-width="1" shape-rendering="crispEdges"/>
<polyline points="260.0,630.2 281.2,631.5 280.0,659.0 249.5,657.8 249.5,649.0" fill="none" stroke="#000" stroke-width="1" shape-rendering="crispEdges"/>
<polyline points="215.0,649.0 249.5,650.2" fill="none" stroke="#000" stroke-width="1" shape-rendering="crispEdges"/>
<polyline points="245.0,595.2 248.8,591.5 252.5,589.0 250.0,592.8 248.8,595.2" fill="none" stroke="#000" stroke-width="1" shape-rendering="crispEdges"/>
<polyline points="247.5,607.8 252.5,604.0 257.5,601.5 262.5,597.0 265.0,599.0 260.0,601.0" fill="none" stroke="#000" stroke-width="1" shape-rendering="crispEdges"/>
<polyline points="212.5,654.0 220.0,669.0 226.2,684.0 228.8,691.5 237.5,680.2 240.0,680.2 242.5,670.2 220.0,669.0" fill="none" stroke="#000" stroke-width="1" shape-rendering="crispEdges"/>
<polyline points="242.5,670.2 250.0,657.8" fill="none" stroke="#000" stroke-width="1" shape-rendering="crispEdges"/>
<polyline points="243.8,681.5 277.5,690.2 278.8,699.0 304.0,701.5" fill="none" stroke="#000" stroke-width="1" shape-rendering="crispEdges"/>
<polyline points="280.0,659.0 277.5,690.2" fill="none" stroke="#000" stroke-width="1" shape-rendering="crispEdges"/>
<polyline points="228.8,691.5 225.0,696.5 230.0,701.5 237.5,707.8 237.5,719.0" fill="none" stroke="#000" stroke-width="1" shape-rendering="crispEdges"/>
<polyline points="237.5,707.8 252.5,709.0 266.2,691.5 277.5,694.0" fill="none" stroke="#000" stroke-width="1" shape-rendering="crispEdges"/>
<polyline points="175.0,669.0 173.8,679.0 183.8,680.2 185.0,687.8 206.2,691.5 226.2,690.2" fill="none" stroke="#000" stroke-width="1" shape-rendering="crispEdges"/>
<polyline points="183.8,687.8 182.5,704.0 205.5,706.5 215.0,709.0" fill="none" stroke="#000" stroke-width="1" shape-rendering="crispEdges"/>
<polyline points="206.2,691.5 205.5,706.5" fill="none" stroke="#000" stroke-width="1" shape-rendering="crispEdges"/>
<polyline points="182.5,704.0 185.0,719.0" fill="none" stroke="#000" stroke-width="1" shape-rendering="crispEdges"/>
<polyline points="135.0,657.8 140.0,659.0 138.8,662.8 145.0,671.5 151.2,676.5" fill="none" stroke="#000" stroke-width="1" shape-rendering="crispEdges"/>
<polyline points="150.0,676.5 140.0,684.0 135.0,691.5 122.5,710.2" fill="none" stroke="#000" stroke-width="1" shape-rendering="crispEdges"/>
<polyline points="155.0,684.0 153.8,716.5" fill="none" stroke="#000" stroke-width="1" shape-rendering="crispEdges"/>
<polyline points="155.0,699.0 182.5,704.0" fill="none" stroke="#000" stroke-width="1" shape-rendering="crispEdges"/>
<polyline points="167.5,680.2 166.2,701.5" fill="none" stroke="#000" stroke-width="1" shape-rendering="crispEdges"/>
<polyline points="101.2,674.0 140.0,680.2" fill="none" stroke="#000" stroke-width="1" shape-rendering="crispEdges"/>
<polyline points="135.0,691.5 153.8,690.2" fill="none" stroke="#000" stroke-width="1" shape-rendering="crispEdges"/>
<polyline points="281.2,570.2 304.0,571.5" fill="none" stroke="#000" stroke-width="1" shape-rendering="crispEdges"/>
<polyline points="281.2,570.2 280.0,592.8" fill="none" stroke="#000" stroke-width="1" shape-rendering="crispEdges"/>
</g>
<g clip-path="url(#cT22)">
<polyline points="296.2,388.5 331.2,389.0" fill="none" stroke="#000" stroke-width="1" shape-rendering="crispEdges"/>
<polyline points="311.2,389.5 312.0,407.8" fill="none" stroke="#000" stroke-width="1" shape-rendering="crispEdges"/>
<polyline points="293.8,406.5 312.0,407.8 347.5,410.2" fill="none" stroke="#000" stroke-width="1" shape-rendering="crispEdges"/>
<polyline points="293.8,420.2 337.5,424.0 327.5,432.8 325.0,459.0" fill="none" stroke="#000" stroke-width="1" shape-rendering="crispEdges"/>
<polyline points="293.8,437.8 326.2,440.2" fill="none" stroke="#000" stroke-width="1" shape-rendering="crispEdges"/>
<polyline points="350.0,397.8 352.5,395.2 361.2,393.5 375.0,389.5 388.8,386.5" fill="none" stroke="#000" stroke-width="1" shape-rendering="crispEdges"/>
<polyline points="348.8,384.0 350.0,397.8 348.0,410.2 346.2,430.2 356.2,431.5 355.5,459.0" fill="none" stroke="#000" stroke-width="1" shape-rendering="crispEdges"/>
<polyline points="337.5,424.0 346.2,430.2" fill="none" stroke="#000" stroke-width="1" shape-rendering="crispEdges"/>
<polyline points="356.2,444.0 385.0,445.2 417.5,446.5" fill="none" stroke="#000" stroke-width="1" shape-rendering="crispEdges"/>
<polyline points="361.8,384.0 361.0,404.0 360.0,421.5 358.0,431.5" fill="none" stroke="#000" stroke-width="1" shape-rendering="crispEdges"/>
<polyline points="385.0,426.5 384.5,461.5" fill="none" stroke="#000" stroke-width="1" shape-rendering="crispEdges"/>
<polyline points="388.8,386.5 388.0,409.0 391.2,410.2 391.2,424.0 386.2,426.5" fill="none" stroke="#000" stroke-width="1" shape-rendering="crispEdges"/>
<polyline points="386.2,426.5 392.5,425.2 400.0,430.2 407.5,429.0 415.0,431.5 425.0,431.5 436.2,430.2 437.5,434.0" fill="none" stroke="#000" stroke-width="1" shape-rendering="crispEdges"/>
<polyline points="391.2,410.2 413.8,411.5 414.5,430.2" fill="none" stroke="#000" stroke-width="1" shape-rendering="crispEdges"/>
<polyline points="417.5,432.8 418.8,461.5" fill="none" stroke="#000" stroke-width="1" shape-rendering="crispEdges"/>
<polyline points="440.0,434.0 440.5,462.8" fill="none" stroke="#000" stroke-width="1" shape-rendering="crispEdges"/>
<polyline points="437.5,434.0 465.0,440.2 470.0,446.5 487.5,456.5 487.5,467.8" fill="none" stroke="#000" stroke-width="1" shape-rendering="crispEdges"/>
<polyline points="447.5,390.2 540.0,391.5" fill="none" stroke="#000" stroke-width="1" shape-rendering="crispEdges"/>
<polyline points="437.5,410.2 460.0,411.0 478.8,411.5 502.5,409.0 540.0,409.0" fill="none" stroke="#000" stroke-width="1" shape-rendering="crispEdges"/>
<polyline points="460.0,421.5 478.8,422.0" fill="none" stroke="#000" stroke-width="1" shape-rendering="crispEdges"/>
<polyline points="480.0,425.2 502.5,426.0 540.0,425.2" fill="none" stroke="#000" stroke-width="1" shape-rendering="crispEdges"/>
<polyline points="465.0,441.0 487.5,442.0 510.0,443.0 540.0,441.5" fill="none" stroke="#000" stroke-width="1" shape-rendering="crispEdges"/>
<polyline points="487.5,456.5 517.5,456.5 530.0,459.0" fill="none" stroke="#000" stroke-width="1" shape-rendering="crispEdges"/>
<polyline points="447.5,384.0 448.0,410.2" fill="none" stroke="#000" stroke-width="1" shape-rendering="crispEdges"/>
<polyline points="467.5,384.0 468.0,410.2" fill="none" stroke="#000" stroke-width="1" shape-rendering="crispEdges"/>
<polyline points="460.0,411.0 460.5,432.8 465.0,441.0" fill="none" stroke="#000" stroke-width="1" shape-rendering="crispEdges"/>
<polyline points="478.8,411.5 479.5,441.0" fill="none" stroke="#000" stroke-width="1" shape-rendering="crispEdges"/>
<polyline points="495.0,391.5 495.5,409.0" fill="none" stroke="#000" stroke-width="1" shape-rendering="crispEdges"/>
<polyline points="502.5,409.0 503.0,426.0" fill="none" stroke="#000" stroke-width="1" shape-rendering="crispEdges"/>
<polyline points="510.0,409.0 510.5,426.0" fill="none" stroke="#000" stroke-width="1" shape-rendering="crispEdges"/>
<polyline points="517.5,391.5 518.0,409.0" fill="none" stroke="#000" stroke-width="1" shape-rendering="crispEdges"/>
<polyline points="526.2,409.0 527.0,441.5" fill="none" stroke="#000" stroke-width="1" shape-rendering="crispEdges"/>
<polyline points="491.2,426.0 492.0,441.5" fill="none" stroke="#000" stroke-width="1" shape-rendering="crispEdges"/>
<polyline points="510.0,443.0 511.2,456.5" fill="none" stroke="#000" stroke-width="1" shape-rendering="crispEdges"/>
<polyline points="517.5,426.0 518.0,441.5" fill="none" stroke="#000" stroke-width="1" shape-rendering="crispEdges"/>
<polyline points="526.2,441.5 525.0,456.5" fill="none" stroke="#000" stroke-width="1" shape-rendering="crispEdges"/>
<polyline points="308.8,461.0 309.5,504.0 308.8,549.0" fill="none" stroke="#000" stroke-width="1" shape-rendering="crispEdges"/>
<polyline points="290.0,484.0 332.5,485.2" fill="none" stroke="#000" stroke-width="1" shape-rendering="crispEdges"/>
<polyline points="290.0,504.0 310.0,504.5 335.0,505.2" fill="none" stroke="#000" stroke-width="1" shape-rendering="crispEdges"/>
<polyline points="290.0,524.0 310.0,524.5 335.0,526.5" fill="none" stroke="#000" stroke-width="1" shape-rendering="crispEdges"/>
<polyline points="310.0,531.5 335.5,532.0" fill="none" stroke="#000" stroke-width="1" shape-rendering="crispEdges"/>
<polyline points="332.5,461.0 333.8,484.0 335.0,505.2 335.0,526.5 336.2,542.8 352.5,544.0" fill="none" stroke="#000" stroke-width="1" shape-rendering="crispEdges"/>
<polyline points="356.2,462.8 355.5,504.0 356.2,534.0 353.8,550.2" fill="none" stroke="#000" stroke-width="1" shape-rendering="crispEdges"/>
<polyline points="355.5,504.0 376.2,504.5 395.0,505.2 415.0,505.8 435.5,506.5" fill="none" stroke="#000" stroke-width="1" shape-rendering="crispEdges"/>
<polyline points="376.2,504.5 377.0,519.0 400.0,520.2 399.5,534.0 381.2,535.2 380.0,559.0 377.5,566.5 377.5,588.0" fill="none" stroke="#000" stroke-width="1" shape-rendering="crispEdges"/>
<polyline points="356.2,519.0 377.0,519.0" fill="none" stroke="#000" stroke-width="1" shape-rendering="crispEdges"/>
<polyline points="356.2,534.0 381.2,535.2" fill="none" stroke="#000" stroke-width="1" shape-rendering="crispEdges"/>
<polyline points="395.0,505.2 396.2,520.2" fill="none" stroke="#000" stroke-width="1" shape-rendering="crispEdges"/>
<polyline points="415.0,505.8 415.5,535.2 400.0,534.0" fill="none" stroke="#000" stroke-width="1" shape-rendering="crispEdges"/>
<polyline points="415.5,535.2 416.2,549.0 415.0,565.2 397.5,566.0 396.2,588.0" fill="none" stroke="#000" stroke-width="1" shape-rendering="crispEdges"/>
<polyline points="418.8,471.5 426.2,473.5 435.0,475.2 442.5,473.5 450.0,471.5 460.0,469.0 465.0,472.8 480.0,473.5" fill="none" stroke="#000" stroke-width="1" shape-rendering="crispEdges"/>
<polyline points="418.8,462.8 418.8,505.2" fill="none" stroke="#000" stroke-width="1" shape-rendering="crispEdges"/>
<polyline points="435.0,475.2 435.5,506.5 435.0,534.0" fill="none" stroke="#000" stroke-width="1" shape-rendering="crispEdges"/>
<polyline points="450.0,471.5 450.5,506.5 451.2,536.5 450.0,549.0" fill="none" stroke="#000" stroke-width="1" shape-rendering="crispEdges"/>
<polyline points="465.0,472.8 466.2,506.5 467.0,537.0" fill="none" stroke="#000" stroke-width="1" shape-rendering="crispEdges"/>
<polyline points="481.2,474.0 482.0,489.0 496.2,489.5 497.0,511.5 482.0,512.8 482.0,534.0" fill="none" stroke="#000" stroke-width="1" shape-rendering="crispEdges"/>
<polyline points="482.0,489.0 482.0,512.8" fill="none" stroke="#000" stroke-width="1" shape-rendering="crispEdges"/>
<polyline points="450.5,506.5 466.2,506.5 482.0,507.0" fill="none" stroke="#000" stroke-width="1" shape-rendering="crispEdges"/>
<polyline points="435.0,520.2 451.2,520.8 467.0,521.0 482.0,521.0" fill="none" stroke="#000" stroke-width="1" shape-rendering="crispEdges"/>
<polyline points="435.0,534.0 451.2,536.5 467.0,537.0 482.5,535.2 490.0,531.5 501.2,529.0 502.5,536.5 490.0,540.2 482.5,544.0 481.2,559.0" fill="none" stroke="#000" stroke-width="1" shape-rendering="crispEdges"/>
<polyline points="497.5,489.0 511.2,491.5 510.0,504.0 525.0,505.2 540.0,504.0" fill="none" stroke="#000" stroke-width="1" shape-rendering="crispEdges"/>
<polyline points="511.2,491.5 530.0,495.2 531.2,482.8" fill="none" stroke="#000" stroke-width="1" shape-rendering="crispEdges"/>
<polyline points="507.5,476.5 508.8,491.5" fill="none" stroke="#000" stroke-width="1" shape-rendering="crispEdges"/>
<polyline points="525.0,505.2 526.2,519.0 540.0,520.2" fill="none" stroke="#000" stroke-width="1" shape-rendering="crispEdges"/>
<polyline points="510.0,504.0 511.2,520.2 526.2,519.0" fill="none" stroke="#000" stroke-width="1" shape-rendering="crispEdges"/>
<polyline points="502.5,520.2 511.2,520.2" fill="none" stroke="#000" stroke-width="1" shape-rendering="crispEdges"/>
<polyline points="517.5,520.2 518.0,534.0 530.0,534.0 545.0,531.5" fill="none" stroke="#000" stroke-width="1" shape-rendering="crispEdges"/>
<polyline points="353.8,550.2 380.0,551.5 416.2,549.0" fill="none" stroke="#000" stroke-width="1" shape-rendering="crispEdges"/>
<polyline points="352.5,566.0 377.5,566.5 397.5,566.0" fill="none" stroke="#000" stroke-width="1" shape-rendering="crispEdges"/>
<polyline points="416.2,565.2 442.5,566.5 467.5,567.8 497.5,569.0" fill="none" stroke="#000" stroke-width="1" shape-rendering="crispEdges"/>
<polyline points="442.5,551.5 443.0,566.5 443.8,588.0" fill="none" stroke="#000" stroke-width="1" shape-rendering="crispEdges"/>
<polyline points="467.5,551.5 468.0,588.0" fill="none" stroke="#000" stroke-width="1" shape-rendering="crispEdges"/>
<polyline points="482.5,559.0 483.0,588.0" fill="none" stroke="#000" stroke-width="1" shape-rendering="crispEdges"/>
<polyline points="497.5,544.0 498.0,588.0" fill="none" stroke="#000" stroke-width="1" shape-rendering="crispEdges"/>
<polyline points="513.8,544.0 514.5,588.0" fill="none" stroke="#000" stroke-width="1" shape-rendering="crispEdges"/>
<polyline points="530.0,534.0 529.5,588.0" fill="none" stroke="#000" stroke-width="1" shape-rendering="crispEdges"/>
<polyline points="450.0,549.0 467.5,551.5 482.5,559.0" fill="none" stroke="#000" stroke-width="1" shape-rendering="crispEdges"/>
<polyline points="482.5,552.0 543.8,550.5" fill="none" stroke="#000" stroke-width="1" shape-rendering="crispEdges"/>
<polyline points="497.5,568.5 528.8,566.0 544.8,562.5 562.5,560.5" fill="none" stroke="#000" stroke-width="1" shape-rendering="crispEdges"/>
<polyline points="529.8,574.0 559.8,573.2" fill="none" stroke="#000" stroke-width="1" shape-rendering="crispEdges"/>
<polyline points="420.0,582.8 490.0,582.2 558.8,581.5" fill="none" stroke="#000" stroke-width="1" shape-rendering="crispEdges"/>
<polyline points="545.0,531.5 545.5,588.0" fill="none" stroke="#000" stroke-width="1" shape-rendering="crispEdges"/>
<polyline points="540.0,504.0 540.5,520.2" fill="none" stroke="#000" stroke-width="1" shape-rendering="crispEdges"/>
<polyline points="516.2,492.0 517.0,504.5" fill="none" stroke="#000" stroke-width="1" shape-rendering="crispEdges"/>
<polyline points="502.5,511.5 502.5,536.5" fill="none" stroke="#000" stroke-width="1" shape-rendering="crispEdges"/>
<polyline points="497.5,544.0 529.5,544.5" fill="none" stroke="#000" stroke-width="1" shape-rendering="crispEdges"/>
<polyline points="538.8,489.0 540.0,504.5" fill="none" stroke="#000" stroke-width="1" shape-rendering="crispEdges"/>
<polyline points="523.8,479.0 525.0,505.2" fill="none" stroke="#000" stroke-width="1" shape-rendering="crispEdges"/>
<polyline points="540.0,520.2 554.0,520.2" fill="none" stroke="#000" stroke-width="1" shape-rendering="crispEdges"/>
<polyline points="540.0,504.5 550.0,505.2" fill="none" stroke="#000" stroke-width="1" shape-rendering="crispEdges"/>
<polyline points="554.0,537.0 530.0,534.0" fill="none" stroke="#000" stroke-width="1" shape-rendering="crispEdges"/>
<polyline points="425.0,569.0 423.8,581.5 421.2,588.0" fill="none" stroke="#000" stroke-width="1" shape-rendering="crispEdges"/>
<polyline points="301.2,551.0 300.0,569.0 290.0,570.2" fill="none" stroke="#000" stroke-width="1" shape-rendering="crispEdges"/>
<polyline points="301.2,569.0 327.5,570.2 328.8,588.0" fill="none" stroke="#000" stroke-width="1" shape-rendering="crispEdges"/>
<polyline points="327.5,570.2 352.5,571.5" fill="none" stroke="#000" stroke-width="1" shape-rendering="crispEdges"/>
<polyline points="303.8,576.5 302.5,588.0" fill="none" stroke="#000" stroke-width="1" shape-rendering="crispEdges"/>
</g>
<g clip-path="url(#cT23)">
<polyline points="554.0,534.0 562.5,536.0" fill="none" stroke="#000" stroke-width="1" shape-rendering="crispEdges"/>
<polyline points="554.0,549.0 565.5,550.2" fill="none" stroke="#000" stroke-width="1" shape-rendering="crispEdges"/>
<polyline points="554.0,564.5 568.0,566.0" fill="none" stroke="#000" stroke-width="1" shape-rendering="crispEdges"/>
<polyline points="554.0,577.8 573.0,578.5" fill="none" stroke="#000" stroke-width="1" shape-rendering="crispEdges"/>
</g>
<g clip-path="url(#cT32)">
<polyline points="352.0,616.8 417.5,617.5 475.0,618.5" fill="none" stroke="#000" stroke-width="1" shape-rendering="crispEdges"/>
<polyline points="351.2,636.0 475.5,637.5" fill="none" stroke="#000" stroke-width="1" shape-rendering="crispEdges"/>
<polyline points="350.8,655.5 437.5,656.8 457.0,656.0 476.2,656.8" fill="none" stroke="#000" stroke-width="1" shape-rendering="crispEdges"/>
<polyline points="350.0,675.0 437.5,676.0 457.0,675.5" fill="none" stroke="#000" stroke-width="1" shape-rendering="crispEdges"/>
<polyline points="349.2,698.0 398.8,699.2 415.0,698.0 437.5,700.5 457.5,701.0 476.2,700.5" fill="none" stroke="#000" stroke-width="1" shape-rendering="crispEdges"/>
<polyline points="398.8,688.0 415.0,688.5" fill="none" stroke="#000" stroke-width="1" shape-rendering="crispEdges"/>
<polyline points="348.8,714.2 399.2,715.5 418.8,713.0 438.8,716.8 458.0,716.0 481.2,716.8" fill="none" stroke="#000" stroke-width="1" shape-rendering="crispEdges"/>
<polyline points="375.0,598.0 374.5,636.0" fill="none" stroke="#000" stroke-width="1" shape-rendering="crispEdges"/>
<polyline points="397.5,598.0 398.0,636.8" fill="none" stroke="#000" stroke-width="1" shape-rendering="crispEdges"/>
<polyline points="417.5,598.0 418.0,656.0" fill="none" stroke="#000" stroke-width="1" shape-rendering="crispEdges"/>
<polyline points="436.2,598.0 437.5,700.5" fill="none" stroke="#000" stroke-width="1" shape-rendering="crispEdges"/>
<polyline points="456.2,598.0 457.5,701.0" fill="none" stroke="#000" stroke-width="1" shape-rendering="crispEdges"/>
<polyline points="475.0,598.0 476.2,700.5" fill="none" stroke="#000" stroke-width="1" shape-rendering="crispEdges"/>
<polyline points="371.2,636.8 370.5,655.5" fill="none" stroke="#000" stroke-width="1" shape-rendering="crispEdges"/>
<polyline points="393.8,636.8 393.8,656.0" fill="none" stroke="#000" stroke-width="1" shape-rendering="crispEdges"/>
<polyline points="367.0,656.0 368.0,698.0 367.5,731.8" fill="none" stroke="#000" stroke-width="1" shape-rendering="crispEdges"/>
<polyline points="383.0,656.0 383.8,698.0 383.0,731.8" fill="none" stroke="#000" stroke-width="1" shape-rendering="crispEdges"/>
<polyline points="398.8,656.0 399.2,731.8" fill="none" stroke="#000" stroke-width="1" shape-rendering="crispEdges"/>
<polyline points="413.8,656.0 415.0,698.0 418.8,713.0 418.8,732.5" fill="none" stroke="#000" stroke-width="1" shape-rendering="crispEdges"/>
<polyline points="438.8,700.5 438.8,732.5" fill="none" stroke="#000" stroke-width="1" shape-rendering="crispEdges"/>
<polyline points="458.0,701.0 458.0,732.5" fill="none" stroke="#000" stroke-width="1" shape-rendering="crispEdges"/>
<polyline points="476.2,700.5 481.2,716.8 482.0,732.5" fill="none" stroke="#000" stroke-width="1" shape-rendering="crispEdges"/>
<polyline points="495.0,598.0 495.5,680.5" fill="none" stroke="#000" stroke-width="1" shape-rendering="crispEdges"/>
<polyline points="515.0,598.0 515.5,663.0" fill="none" stroke="#000" stroke-width="1" shape-rendering="crispEdges"/>
<polyline points="533.8,598.5 533.8,615.5" fill="none" stroke="#000" stroke-width="1" shape-rendering="crispEdges"/>
<polyline points="475.0,613.0 495.0,613.5 515.0,614.2 533.8,615.0" fill="none" stroke="#000" stroke-width="1" shape-rendering="crispEdges"/>
<polyline points="476.2,629.2 495.5,629.8 515.5,630.5" fill="none" stroke="#000" stroke-width="1" shape-rendering="crispEdges"/>
<polyline points="476.2,645.5 495.5,646.0 515.5,646.8" fill="none" stroke="#000" stroke-width="1" shape-rendering="crispEdges"/>
<polyline points="476.2,664.2 495.5,664.2 515.0,663.5" fill="none" stroke="#000" stroke-width="1" shape-rendering="crispEdges"/>
<polyline points="476.2,680.5 501.2,681.0 523.8,681.8" fill="none" stroke="#000" stroke-width="1" shape-rendering="crispEdges"/>
<polyline points="501.2,681.0 501.2,732.5" fill="none" stroke="#000" stroke-width="1" shape-rendering="crispEdges"/>
<polyline points="523.8,681.8 523.8,732.5" fill="none" stroke="#000" stroke-width="1" shape-rendering="crispEdges"/>
<polyline points="501.2,700.5 523.8,701.0" fill="none" stroke="#000" stroke-width="1" shape-rendering="crispEdges"/>
<polyline points="482.0,716.8 501.2,716.8" fill="none" stroke="#000" stroke-width="1" shape-rendering="crispEdges"/>
<polyline points="290.0,613.0 313.8,615.0 350.0,617.5" fill="none" stroke="#000" stroke-width="1" shape-rendering="crispEdges"/>
<polyline points="313.8,615.0 312.5,638.0 311.2,658.0 350.0,660.5" fill="none" stroke="#000" stroke-width="1" shape-rendering="crispEdges"/>
<polyline points="290.0,638.0 312.5,638.0 350.0,640.5" fill="none" stroke="#000" stroke-width="1" shape-rendering="crispEdges"/>
<polyline points="298.8,660.5 300.0,673.0 290.0,674.2" fill="none" stroke="#000" stroke-width="1" shape-rendering="crispEdges"/>
<polyline points="300.0,673.0 326.2,674.2 350.0,675.5" fill="none" stroke="#000" stroke-width="1" shape-rendering="crispEdges"/>
<polyline points="326.2,674.2 325.0,693.0 323.8,700.5 311.2,701.8 310.0,729.2" fill="none" stroke="#000" stroke-width="1" shape-rendering="crispEdges"/>
<polyline points="301.2,673.0 302.0,699.2 290.0,700.5" fill="none" stroke="#000" stroke-width="1" shape-rendering="crispEdges"/>
<polyline points="302.0,699.2 311.2,701.8" fill="none" stroke="#000" stroke-width="1" shape-rendering="crispEdges"/>
<polyline points="323.8,700.5 348.8,701.8" fill="none" stroke="#000" stroke-width="1" shape-rendering="crispEdges"/>
<polyline points="290.0,595.5 295.0,596.0 294.5,613.0" fill="none" stroke="#000" stroke-width="1" shape-rendering="crispEdges"/>
<polyline points="327.5,588.0 326.2,614.2" fill="none" stroke="#000" stroke-width="1" shape-rendering="crispEdges"/>
</g>
<g clip-path="url(#cTE)">
<polyline points="482.1,570.0 482.1,596.0" fill="none" stroke="#000" stroke-width="1" shape-rendering="crispEdges"/>
<polyline points="498.3,570.0 498.3,596.0" fill="none" stroke="#000" stroke-width="1" shape-rendering="crispEdges"/>
<polyline points="513.8,570.0 513.8,596.0" fill="none" stroke="#000" stroke-width="1" shape-rendering="crispEdges"/>
<polyline points="529.6,570.0 529.6,596.0" fill="none" stroke="#000" stroke-width="1" shape-rendering="crispEdges"/>
<polyline points="545.0,570.0 545.0,596.0" fill="none" stroke="#000" stroke-width="1" shape-rendering="crispEdges"/>
<polyline points="559.2,570.0 559.6,596.0" fill="none" stroke="#000" stroke-width="1" shape-rendering="crispEdges"/>
<polyline points="480.0,581.5 571.7,582.1" fill="none" stroke="#000" stroke-width="1" shape-rendering="crispEdges"/>
<polyline points="494.6,598.1 495.0,613.8" fill="none" stroke="#000" stroke-width="1" shape-rendering="crispEdges"/>
<polyline points="514.4,598.1 514.4,617.9" fill="none" stroke="#000" stroke-width="1" shape-rendering="crispEdges"/>
<polyline points="534.2,598.1 534.6,617.5" fill="none" stroke="#000" stroke-width="1" shape-rendering="crispEdges"/>
<polyline points="552.9,598.1 553.3,616.2" fill="none" stroke="#000" stroke-width="1" shape-rendering="crispEdges"/>
<polyline points="568.5,597.1 569.2,612.7 576.9,611.7 584.2,610.6 593.5,611.7" fill="none" stroke="#000" stroke-width="1" shape-rendering="crispEdges"/>
<polyline points="584.2,597.1 584.6,610.6" fill="none" stroke="#000" stroke-width="1" shape-rendering="crispEdges"/>
<polyline points="480.0,619.0 494.6,618.3" fill="none" stroke="#000" stroke-width="1" shape-rendering="crispEdges"/>
<polyline points="495.0,613.8 514.4,614.2" fill="none" stroke="#000" stroke-width="1" shape-rendering="crispEdges"/>
<polyline points="514.4,617.9 537.3,617.5 552.9,616.2 569.2,612.7" fill="none" stroke="#000" stroke-width="1" shape-rendering="crispEdges"/>
<polyline points="495.0,613.8 495.6,629.4 514.4,630.0 514.4,617.9" fill="none" stroke="#000" stroke-width="1" shape-rendering="crispEdges"/>
<polyline points="495.6,629.4 496.2,645.0 514.4,645.4 515.0,636.7 529.0,636.2 528.3,617.5" fill="none" stroke="#000" stroke-width="1" shape-rendering="crispEdges"/>
<polyline points="537.3,617.5 536.2,623.1 542.5,630.4 548.8,634.6 559.2,631.5 561.2,632.5 560.2,617.5" fill="none" stroke="#000" stroke-width="1" shape-rendering="crispEdges"/>
<polyline points="529.0,636.2 530.0,649.2 531.0,661.7 516.5,662.7 515.4,680.4" fill="none" stroke="#000" stroke-width="1" shape-rendering="crispEdges"/>
<polyline points="561.2,632.5 575.8,631.5 576.9,611.7" fill="none" stroke="#000" stroke-width="1" shape-rendering="crispEdges"/>
<polyline points="576.9,622.1 590.4,621.7 599.8,632.5" fill="none" stroke="#000" stroke-width="1" shape-rendering="crispEdges"/>
<polyline points="590.4,621.7 591.5,640.8 580.0,639.8 575.8,631.5" fill="none" stroke="#000" stroke-width="1" shape-rendering="crispEdges"/>
<polyline points="599.8,632.5 600.8,638.8 610.2,637.7" fill="none" stroke="#000" stroke-width="1" shape-rendering="crispEdges"/>
<polyline points="548.8,634.6 544.6,640.8 546.7,650.2 550.8,653.3 551.9,682.5" fill="none" stroke="#000" stroke-width="1" shape-rendering="crispEdges"/>
<polyline points="530.0,649.2 546.7,650.2" fill="none" stroke="#000" stroke-width="1" shape-rendering="crispEdges"/>
<polyline points="564.4,632.5 565.4,648.1 580.0,647.5 581.0,639.8" fill="none" stroke="#000" stroke-width="1" shape-rendering="crispEdges"/>
<polyline points="565.4,648.1 565.8,666.9 581.0,666.2 581.7,683.5 565.8,684.6 565.8,666.9" fill="none" stroke="#000" stroke-width="1" shape-rendering="crispEdges"/>
<polyline points="580.0,647.5 595.6,652.3 611.2,651.7" fill="none" stroke="#000" stroke-width="1" shape-rendering="crispEdges"/>
<polyline points="595.6,652.3 596.7,666.9 581.0,666.2" fill="none" stroke="#000" stroke-width="1" shape-rendering="crispEdges"/>
<polyline points="596.7,666.9 612.3,666.2" fill="none" stroke="#000" stroke-width="1" shape-rendering="crispEdges"/>
<polyline points="596.7,666.9 597.7,683.5 581.7,683.5" fill="none" stroke="#000" stroke-width="1" shape-rendering="crispEdges"/>
<polyline points="597.7,683.5 613.3,682.5" fill="none" stroke="#000" stroke-width="1" shape-rendering="crispEdges"/>
<polyline points="534.2,663.8 535.2,683.5 551.9,682.5" fill="none" stroke="#000" stroke-width="1" shape-rendering="crispEdges"/>
<polyline points="531.0,661.7 550.8,663.8" fill="none" stroke="#000" stroke-width="1" shape-rendering="crispEdges"/>
<polyline points="551.9,682.5 565.8,678.3" fill="none" stroke="#000" stroke-width="1" shape-rendering="crispEdges"/>
<polyline points="496.2,645.0 496.7,661.7 514.4,662.7" fill="none" stroke="#000" stroke-width="1" shape-rendering="crispEdges"/>
<polyline points="496.7,661.7 495.6,680.4 502.9,680.8 504.0,683.5 500.8,701.2 500.8,711.7 499.8,732.5" fill="none" stroke="#000" stroke-width="1" shape-rendering="crispEdges"/>
<polyline points="515.4,680.4 504.0,680.8" fill="none" stroke="#000" stroke-width="1" shape-rendering="crispEdges"/>
<polyline points="515.4,680.4 523.8,683.5 535.2,683.5" fill="none" stroke="#000" stroke-width="1" shape-rendering="crispEdges"/>
<polyline points="523.8,683.5 522.7,711.7 500.8,711.7" fill="none" stroke="#000" stroke-width="1" shape-rendering="crispEdges"/>
<polyline points="522.7,711.7 524.8,731.5" fill="none" stroke="#000" stroke-width="1" shape-rendering="crispEdges"/>
<polyline points="506.0,692.9 522.7,691.9" fill="none" stroke="#000" stroke-width="1" shape-rendering="crispEdges"/>
<polyline points="545.6,683.5 546.2,705.4 546.7,731.5" fill="none" stroke="#000" stroke-width="1" shape-rendering="crispEdges"/>
<polyline points="522.7,711.7 546.2,710.0" fill="none" stroke="#000" stroke-width="1" shape-rendering="crispEdges"/>
<polyline points="546.2,705.4 565.4,703.3 565.8,684.6" fill="none" stroke="#000" stroke-width="1" shape-rendering="crispEdges"/>
<polyline points="565.4,703.3 566.5,715.8 565.8,731.5" fill="none" stroke="#000" stroke-width="1" shape-rendering="crispEdges"/>
<polyline points="546.2,718.3 565.8,717.9" fill="none" stroke="#000" stroke-width="1" shape-rendering="crispEdges"/>
<polyline points="565.4,699.2 582.1,698.1 597.7,700.2 613.3,700.2" fill="none" stroke="#000" stroke-width="1" shape-rendering="crispEdges"/>
<polyline points="582.1,698.1 581.7,683.5" fill="none" stroke="#000" stroke-width="1" shape-rendering="crispEdges"/>
<polyline points="582.1,698.1 582.5,713.8 566.5,715.8" fill="none" stroke="#000" stroke-width="1" shape-rendering="crispEdges"/>
<polyline points="582.5,713.8 583.1,730.4" fill="none" stroke="#000" stroke-width="1" shape-rendering="crispEdges"/>
<polyline points="597.7,683.5 598.3,700.2 598.8,714.8 599.2,730.4" fill="none" stroke="#000" stroke-width="1" shape-rendering="crispEdges"/>
<polyline points="582.5,713.8 598.8,714.8 614.4,714.2" fill="none" stroke="#000" stroke-width="1" shape-rendering="crispEdges"/>
</g>
<g clip-path="url(#cT11)">
<polyline points="518.8,353.8 521.2,350.0 523.8,345.0" fill="none" stroke="#1e90ff" stroke-width="1.9" shape-rendering="crispEdges"/>
<polyline points="383.0,259.5 385.0,265.0 390.0,270.5 396.2,272.0 398.8,277.5 400.0,287.5 403.8,296.2 407.5,301.2" fill="none" stroke="#1e90ff" stroke-width="1.9" shape-rendering="crispEdges"/>
<polyline points="306.2,238.8 308.8,236.2 315.0,231.2 319.5,230.0 320.0,225.0 321.2,233.8 327.5,233.8 332.5,230.0 341.2,230.0 346.2,233.8 350.0,238.8" fill="none" stroke="#1e90ff" stroke-width="1.9" shape-rendering="crispEdges"/>
<polyline points="350.0,238.8 356.2,241.2 357.5,247.5 353.8,253.8 358.8,255.0 370.0,259.5 382.5,258.8 388.8,258.0" fill="none" stroke="#3f6fe6" stroke-width="3" stroke-linejoin="round" stroke-linecap="round"/>
<polyline points="350.0,238.8 356.2,241.2 357.5,247.5 353.8,253.8 358.8,255.0 370.0,259.5 382.5,258.8 388.8,258.0" fill="none" stroke="#9fd0f5" stroke-width="0.9" stroke-linejoin="round" stroke-dasharray="2 2"/>
<polyline points="348.8,241.2 348.0,247.5 352.5,251.2 355.5,255.0" fill="none" stroke="#3f6fe6" stroke-width="3" stroke-linejoin="round" stroke-linecap="round"/>
<polyline points="348.8,241.2 348.0,247.5 352.5,251.2 355.5,255.0" fill="none" stroke="#9fd0f5" stroke-width="0.9" stroke-linejoin="round" stroke-dasharray="2 2"/>
<polyline points="341.2,254.5 348.8,256.2 353.8,259.5" fill="none" stroke="#3f6fe6" stroke-width="3" stroke-linejoin="round" stroke-linecap="round"/>
<polyline points="341.2,254.5 348.8,256.2 353.8,259.5" fill="none" stroke="#9fd0f5" stroke-width="0.9" stroke-linejoin="round" stroke-dasharray="2 2"/>
<polyline points="407.5,301.2 408.8,310.0 407.5,320.0 411.2,330.0 415.0,336.2 416.2,345.0 412.5,355.0 416.2,362.5 413.8,372.5 412.5,380.0 407.5,384.0" fill="none" stroke="#3f6fe6" stroke-width="3" stroke-linejoin="round" stroke-linecap="round"/>
<polyline points="407.5,301.2 408.8,310.0 407.5,320.0 411.2,330.0 415.0,336.2 416.2,345.0 412.5,355.0 416.2,362.5 413.8,372.5 412.5,380.0 407.5,384.0" fill="none" stroke="#9fd0f5" stroke-width="0.9" stroke-linejoin="round" stroke-dasharray="2 2"/>
<polyline points="404.5,345.0 410.0,346.2 415.0,342.5" fill="none" stroke="#3f6fe6" stroke-width="3" stroke-linejoin="round" stroke-linecap="round"/>
<polyline points="404.5,345.0 410.0,346.2 415.0,342.5" fill="none" stroke="#9fd0f5" stroke-width="0.9" stroke-linejoin="round" stroke-dasharray="2 2"/>
<polyline points="407.5,357.5 412.5,358.8" fill="none" stroke="#3f6fe6" stroke-width="3" stroke-linejoin="round" stroke-linecap="round"/>
<polyline points="407.5,357.5 412.5,358.8" fill="none" stroke="#9fd0f5" stroke-width="0.9" stroke-linejoin="round" stroke-dasharray="2 2"/>
<polyline points="392.5,381.2 402.5,380.0 410.0,377.5" fill="none" stroke="#3f6fe6" stroke-width="3" stroke-linejoin="round" stroke-linecap="round"/>
<polyline points="392.5,381.2 402.5,380.0 410.0,377.5" fill="none" stroke="#9fd0f5" stroke-width="0.9" stroke-linejoin="round" stroke-dasharray="2 2"/>
</g>
<g clip-path="url(#cT21)">
<polyline points="73.8,360.5 83.8,357.5 88.8,359.5 93.8,351.2" fill="none" stroke="#1e90ff" stroke-width="1.9" shape-rendering="crispEdges"/>
<polyline points="93.8,350.0 92.5,365.0 96.2,377.5 98.8,390.0 98.0,402.5 101.2,411.2 112.5,420.0 125.0,430.0 135.0,440.0 145.0,446.2 153.8,441.2 157.0,435.0 156.2,415.0 160.0,410.0 167.5,397.5 167.5,385.0 165.0,370.0 162.5,358.0" fill="none" stroke="#1e90ff" stroke-width="1.9" shape-rendering="crispEdges"/>
<polyline points="98.8,425.0 91.2,440.0 93.8,452.5 83.8,472.5 87.5,487.5 97.5,500.0 106.2,511.2 100.0,522.5 98.8,531.2" fill="none" stroke="#1e90ff" stroke-width="1.9" shape-rendering="crispEdges"/>
<polyline points="56.2,472.5 53.8,485.0 55.5,490.0" fill="none" stroke="#1e90ff" stroke-width="1.9" shape-rendering="crispEdges"/>
<polyline points="55.0,515.0 52.0,521.2" fill="none" stroke="#1e90ff" stroke-width="1.9" shape-rendering="crispEdges"/>
<polyline points="97.5,382.5 87.5,383.8 78.8,388.8 77.5,400.0 80.0,402.5 72.5,410.0 70.0,417.5 72.5,423.8 63.8,427.5" fill="none" stroke="#1e90ff" stroke-width="1.9" shape-rendering="crispEdges"/>
<polyline points="126.2,471.2 140.0,472.0 157.5,466.2 172.5,473.8 185.0,472.5 196.2,476.2 205.0,465.0 215.0,460.0 230.0,461.2 245.0,462.5 247.5,470.0 257.5,475.0 260.0,482.5 270.0,492.5 287.5,503.8 304.0,512.5" fill="none" stroke="#1e90ff" stroke-width="1.9" shape-rendering="crispEdges"/>
<polyline points="88.8,372.0 92.5,373.8 93.8,377.5" fill="none" stroke="#3f6fe6" stroke-width="3" stroke-linejoin="round" stroke-linecap="round"/>
<polyline points="88.8,372.0 92.5,373.8 93.8,377.5" fill="none" stroke="#9fd0f5" stroke-width="0.9" stroke-linejoin="round" stroke-dasharray="2 2"/>
</g>
<g clip-path="url(#cT31)">
<polyline points="115.0,544.0 120.0,546.5 118.8,551.5 113.8,555.2" fill="none" stroke="#1e90ff" stroke-width="1.9" shape-rendering="crispEdges"/>
<polyline points="107.5,616.5 115.0,616.5 122.5,622.8 130.0,621.5 135.0,614.0 145.0,607.8 157.5,605.2 170.0,604.0 176.2,601.5 180.0,592.8 187.5,590.2 192.5,592.8 200.0,586.5 212.5,584.0 221.2,582.8" fill="none" stroke="#1e90ff" stroke-width="1.9" shape-rendering="crispEdges"/>
<polyline points="200.0,621.5 205.0,634.0 208.8,644.0 210.0,654.0 215.0,660.2 220.0,662.8 231.2,659.0 240.0,661.5 247.5,666.5 265.0,670.2 277.5,676.5 290.0,681.5 297.5,684.0 304.0,682.8" fill="none" stroke="#1e90ff" stroke-width="1.9" shape-rendering="crispEdges"/>
<polyline points="152.5,684.0 160.0,686.5 167.5,687.8 172.5,684.0 180.0,689.0 190.0,691.5 202.5,696.5 212.5,702.8 216.2,709.0 216.2,722.8" fill="none" stroke="#1e90ff" stroke-width="1.9" shape-rendering="crispEdges"/>
</g>
<g clip-path="url(#cT22)">
<polyline points="412.5,399.0 420.0,402.8 427.5,407.8 435.0,411.5 440.0,410.2 445.0,416.5 447.0,425.2 442.5,431.5 446.2,440.2 455.0,449.0 465.0,457.8 473.8,462.8" fill="none" stroke="#1e90ff" stroke-width="1.9" shape-rendering="crispEdges"/>
<polyline points="290.0,505.2 300.0,509.0 315.0,517.8 335.0,527.8 352.5,537.8 365.0,541.5 380.0,544.0 392.5,542.8 402.5,547.8 415.0,556.5 426.2,564.0 437.5,567.8" fill="none" stroke="#1e90ff" stroke-width="1.9" shape-rendering="crispEdges"/>
<polyline points="437.5,567.8 450.0,569.0 462.5,568.5 475.0,562.8 487.5,554.0 497.5,546.5 502.5,539.0 515.0,535.2 530.0,532.8 540.0,534.0 546.2,539.0 547.5,549.0 554.0,551.5" fill="none" stroke="#1e90ff" stroke-width="1.9" shape-rendering="crispEdges"/>
<polyline points="387.5,386.5 397.5,385.2 405.0,387.8 407.5,395.2 412.5,399.0" fill="none" stroke="#3f6fe6" stroke-width="3" stroke-linejoin="round" stroke-linecap="round"/>
<polyline points="387.5,386.5 397.5,385.2 405.0,387.8 407.5,395.2 412.5,399.0" fill="none" stroke="#9fd0f5" stroke-width="0.9" stroke-linejoin="round" stroke-dasharray="2 2"/>
<polyline points="435.0,410.2 438.8,409.5" fill="none" stroke="#3f6fe6" stroke-width="3" stroke-linejoin="round" stroke-linecap="round"/>
<polyline points="435.0,410.2 438.8,409.5" fill="none" stroke="#9fd0f5" stroke-width="0.9" stroke-linejoin="round" stroke-dasharray="2 2"/>
</g>
<g clip-path="url(#cT23)">
<polyline points="554.0,551.5 558.8,548.5 563.8,547.8" fill="none" stroke="#1e90ff" stroke-width="1.9" shape-rendering="crispEdges"/>
</g>
<g clip-path="url(#cT32)">
<polyline points="290.0,681.8 297.5,683.5 305.0,681.0 327.5,681.0 340.0,681.8 350.0,685.5 365.0,690.5 372.5,691.0 382.5,688.0 392.5,690.5 400.0,694.2 415.0,698.0 425.0,700.5 432.5,704.2 440.0,698.0 450.0,685.5 460.0,675.5 467.5,671.8 475.0,674.2 487.5,681.8 500.0,689.2" fill="none" stroke="#1e90ff" stroke-width="1.9" shape-rendering="crispEdges"/>
</g>
<g clip-path="url(#cTE)">
<polyline points="492.5,685.6 498.8,689.8 507.1,695.0 514.4,699.2 518.5,707.5 522.7,715.8 524.8,724.2 527.9,729.4 531.0,730.8" fill="none" stroke="#1e90ff" stroke-width="1.9" shape-rendering="crispEdges"/>
</g>
</g>
<polyline points="298.8,328.5 415.0,330.2 533.8,331.8" fill="none" stroke="#000" stroke-width="2"/>
<polyline points="291.2,459.5 352.5,461.0 420.0,463.3 474.0,463.8 480.0,467.0 487.5,471.5 492.5,473.0 497.5,470.0 503.0,470.5 510.0,470.0 516.0,471.5 522.5,475.0 530.0,477.5 537.0,481.0" fill="none" stroke="#000" stroke-width="2"/>
<polyline points="296.8,368.8 293.8,440.0 291.2,459.5 290.0,500.0 286.2,547.5" fill="none" stroke="#000" stroke-width="2"/>
<polyline points="115.2,534.6 286.2,547.5 352.5,551.0" fill="none" stroke="#000" stroke-width="2"/>
<polyline points="352.5,551.0 352.5,597.0 348.0,731.8" fill="none" stroke="#000" stroke-width="2"/>
<polyline points="352.5,596.8 450.0,598.0 554.0,598.0 583.1,596.5" fill="none" stroke="#000" stroke-width="2"/>
<polygon points="307.5,189.5 342.5,190.5 383.8,192.5 422.5,194.2 465.0,194.2 509.5,193.8 511.0,199.0 513.8,207.5 513.0,216.0 512.5,225.0 515.0,234.0 518.0,243.8 520.5,252.0 523.0,260.0 524.5,275.0 525.0,290.0 528.0,300.0 530.8,310.0 532.5,320.0 533.8,328.8 533.8,335.0 529.0,341.0 525.0,346.2 527.0,351.0 530.0,353.8 537.5,357.0 538.5,380.0 538.8,405.0 539.5,425.0 540.0,440.0 537.5,446.5 539.0,452.0 541.0,458.0 538.0,466.0 536.5,474.0 540.0,480.0 543.8,485.0 546.2,497.0 553.8,510.0 556.2,524.0 561.5,532.5 563.8,546.5 566.0,562.0 569.6,570.0 572.6,578.0 577.9,584.6 582.0,591.9 583.1,596.5 588.3,598.1 594.6,601.2 599.8,601.2 600.4,606.5 596.7,609.6 593.5,614.8 596.7,619.0 600.8,626.2 605.0,631.5 611.2,631.5 611.8,653.3 613.6,695.0 615.0,730.2 554.0,731.5 501.2,732.0 450.0,733.0 398.8,733.0 348.0,731.8 290.0,729.0 215.0,723.8 95.5,714.5 115.2,534.6 47.3,525.6 73.2,345.0 296.8,368.8 298.8,328.5 305.5,242.5" fill="none" stroke="#000" stroke-width="2.2" stroke-linejoin="round"/>
<g id="usda">
<text x="672.6" y="723.3" font-size="27.6" textLength="61.6" lengthAdjust="spacingAndGlyphs" style="font-family:'Liberation Serif',serif;fill:#21306f;stroke:#21306f;stroke-width:0.5">USDA</text>
<polygon fill="#13573f" points="672.97,739.21 686.80,735.41 701.99,731.99 713.39,731.08 735.05,730.93 735.05,747.95 672.97,747.95"/>
<polygon fill="#13573f" points="735.05,726.07 719.85,726.07 708.83,727.81 696.67,731.23 683.00,735.03 678.44,735.79 679.20,734.27 694.40,730.47 709.59,729.11 735.05,728.95"/>
<polygon fill="#13573f" points="672.97,726.07 680.34,726.07 692.12,728.35 686.80,728.80 672.97,727.81"/>
<polygon fill="#13573f" points="672.97,730.32 686.80,730.32 679.20,732.15 672.97,732.60"/>
</g>
<g id="ndmc">
<defs><clipPath id="ndmcc"><circle cx="795.6" cy="726.6" r="26.5"/></clipPath>
<path id="ndmct" d="M 767.00 733.60 A 29.4 29.4 0 1 1 824.20 733.60"/>
<path id="ndmcb" d="M 764.40 737.10 A 33 33 0 0 0 826.80 737.10"/></defs>
<g clip-path="url(#ndmcc)">
<circle cx="795.6" cy="726.6" r="26.5" fill="#3b5b2b"/>
<polygon fill="#3d2318" points="765.31,736.42 778.35,745.73 783.93,740.14 787.66,738.28 791.38,739.21 796.97,742.00 802.55,743.87 808.14,742.93 815.59,738.74 823.04,736.42 826.76,758.76 765.31,758.76"/>
<polygon fill="#5d6fc0" points="768.10,733.62 769.97,734.09 774.62,736.42 780.21,735.95 787.66,732.69 791.38,733.62 797.90,738.28 804.42,739.21 811.87,735.95 819.31,735.95 823.04,736.42 815.59,739.02 808.14,743.12 802.55,744.05 796.97,742.19 791.38,739.40 787.66,738.47 783.93,740.33 778.35,746.19 768.10,740.14"/>
<path d="M790.0 741.1 L793.2 747.6 L787.7 752.2 M793.2 747.6 L802.6 749.9 L808.1 743.9 M802.6 749.9 L800.7 753.2" stroke="#fff" stroke-width="0.9" fill="none"/>
</g>
<text x="795.6" y="729" font-size="19.5" class="b c" textLength="39.6" lengthAdjust="spacingAndGlyphs" style="fill:#fff">NDMC</text>
<text font-size="5.6" class="b" style="fill:#3a2a22" textLength="101" lengthAdjust="spacingAndGlyphs"><textPath href="#ndmct" startOffset="2.5">NATIONAL DROUGHT MITIGATION CENTER</textPath></text>
<text font-size="5.4" class="b" style="fill:#3a2a22" textLength="62" lengthAdjust="spacingAndGlyphs"><textPath href="#ndmcb" startOffset="7">UNIVERSITY OF NEBRASKA</textPath></text>
<circle cx="766.9" cy="736.0" r="0.9" fill="#3a2a22"/><circle cx="824.4" cy="736.0" r="0.9" fill="#3a2a22"/>
</g>
<g id="doc">
<circle cx="887" cy="726.2" r="31.2" fill="#2b8fd8" stroke="#1c3f78" stroke-width="1"/>
<circle cx="887" cy="726.2" r="24.6" fill="#fff" stroke="#1c3f78" stroke-width="0.8"/>
<defs><path id="doct" d="M 861.40 729.20 A 25.8 25.8 0 1 1 912.60 729.20"/>
<path id="docb" d="M 857.70 733.20 A 30.2 30.2 0 0 0 916.30 733.20"/></defs>
<text font-size="5.6" class="b" style="fill:#fff" textLength="74" lengthAdjust="spacingAndGlyphs"><textPath href="#doct" startOffset="3">DEPARTMENT OF COMMERCE</textPath></text>
<text font-size="5.6" class="b" style="fill:#fff" textLength="70" lengthAdjust="spacingAndGlyphs"><textPath href="#docb" startOffset="3">UNITED STATES OF AMERICA</textPath></text>
<rect x="857.6" y="725.1" width="2" height="2" fill="#fff"/><polygon fill="#fff" points="914.44,726.64 915.65,725.06 916.76,726.64"/>
<path d="M873.5 721.1 H900.5 L899.1 722.9 V733.0 H875.1 V722.9 Z" fill="#2b8fd8"/>
<path d="M875.1 733.0 H899.1 V740.1 Q898.1 744.8 887.0 746.5 Q876.0 744.8 875.1 740.1 Z" fill="#f2c744"/>
<path d="M873.5 721.1 H900.5" stroke="#1c2a4a" stroke-width="0.7"/>
<polygon fill="#10141c" points="876.73,727.57 882.31,724.78 886.04,722.45 887.90,724.78 891.62,723.85 894.42,727.11 896.74,729.43 892.55,731.30 885.11,731.76 879.52,730.36"/>
<polygon fill="#10141c" points="886.04,734.55 887.90,734.55 888.09,743.87 889.76,746.66 884.18,746.66 885.85,743.87"/>
<polygon fill="#f2c744" points="879.05,706.16 881.85,707.55 885.11,710.81 886.97,709.42 889.76,710.81 892.55,708.02 895.81,705.23 894.42,709.88 891.16,713.61 889.76,715.93 892.09,717.98 882.31,717.98 884.64,715.93 882.78,713.14 880.45,709.88"/>
<path d="M881.8 718.3 H893.0" stroke="#10141c" stroke-width="0.8"/>
</g>
<g id="noaa">
<defs><clipPath id="noaac"><circle cx="978.5" cy="726.3" r="31.6"/></clipPath></defs>
<g clip-path="url(#noaac)">
<polygon fill="#0a1485" points="952.90,707.09 956.62,697.31 968.73,691.72 987.35,691.72 999.45,697.31 1002.99,707.09 997.59,711.28 993.87,716.86 990.14,724.31 985.49,728.97 979.90,731.76 975.24,730.36 969.66,725.24 965.00,719.66 961.28,714.07 957.55,709.88"/>
<polygon fill="#0085ca" points="943.59,717.33 950.10,718.26 956.62,724.31 964.07,729.90 970.59,733.16 978.04,733.81 975.24,736.42 968.73,738.28 970.59,740.14 977.11,738.74 984.55,735.02 992.47,733.62 987.35,731.76 992.93,729.90 998.52,724.31 1003.18,717.80 1007.37,712.95 1012.49,715.93 1012.49,762.49 943.59,762.49"/>
</g>
<text x="978.0" y="715.0" font-size="11" class="b c" textLength="26" lengthAdjust="spacingAndGlyphs" style="fill:#fff">NOAA</text>
</g>
</svg>
</body>
</html>
